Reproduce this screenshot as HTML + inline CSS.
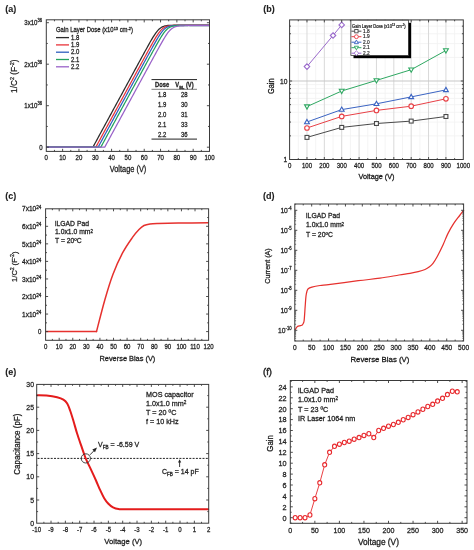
<!DOCTYPE html>
<html><head><meta charset="utf-8"><style>
html,body{margin:0;padding:0;background:#fff;width:474px;height:550px;overflow:hidden}
svg{display:block;filter:blur(0.4px)}
text{font-family:"Liberation Sans", sans-serif}
</style></head><body>
<svg width="474" height="550" viewBox="0 0 474 550">
<rect width="474" height="550" fill="#fff"/>
<text x="5.2" y="12.2" font-size="9" text-anchor="start" font-weight="bold" fill="#1e1e1e" stroke="#1e1e1e" stroke-width="0.1">(a)</text>
<path d="M46.8 147.2 L92.9 147.2 L93.9 145.36 L94.9 143.52 L95.9 141.68 L96.9 139.84 L97.9 138 L98.9 136.16 L99.9 134.32 L100.9 132.48 L101.9 130.64 L102.9 128.8 L103.9 126.96 L104.9 125.12 L105.9 123.28 L106.9 121.44 L107.9 119.6 L108.9 117.76 L109.9 115.92 L110.9 114.08 L111.9 112.24 L112.9 110.4 L113.9 108.56 L114.9 106.72 L115.9 104.88 L116.9 103.04 L117.9 101.2 L118.9 99.36 L119.9 97.52 L120.9 95.68 L121.9 93.84 L122.9 92 L123.9 90.16 L124.9 88.32 L125.9 86.48 L126.9 84.64 L127.9 82.8 L128.9 80.96 L129.9 79.12 L130.9 77.28 L131.9 75.44 L132.9 73.6 L133.9 71.76 L134.9 69.92 L135.9 68.08 L136.9 66.24 L137.9 64.4 L138.9 62.57 L139.9 60.73 L140.9 58.89 L141.9 57.06 L142.9 55.22 L143.9 53.39 L144.9 51.57 L145.9 49.74 L146.9 47.93 L147.9 46.12 L148.9 44.33 L149.9 42.56 L150.9 40.81 L151.9 39.1 L152.9 37.43 L153.9 35.82 L154.9 34.29 L155.9 32.85 L156.9 31.53 L157.9 30.34 L158.9 29.3 L159.9 28.41 L160.9 27.67 L161.9 27.07 L162.9 26.6 L163.9 26.24 L164.9 25.96 L165.9 25.76 L166.9 25.6 L167.9 25.49 L168.9 25.41 L169.9 25.35 L170.9 25.31 L171.9 25.28 L172.9 25.26 L173.9 25.24 L174.9 25.23 L175.9 25.22 L176.9 25.21 L177.9 25.21 L178.9 25.21 L179.9 25.21 L180.9 25.2 L181.9 25.2 L182.9 25.2 L183.9 25.2 L184.9 25.2 L185.9 25.2 L186.9 25.2 L187.9 25.2 L188.9 25.2 L189.9 25.2 L190.9 25.2 L191.9 25.2 L192.9 25.2 L193.9 25.2 L194.9 25.2 L195.9 25.2 L196.9 25.2 L197.9 25.2 L198.9 25.2 L199.9 25.2 L200.9 25.2 L201.9 25.2 L202.9 25.2 L203.9 25.2 L204.9 25.2 L205.9 25.2 L206.9 25.2 L207.9 25.2 L208.9 25.2 L209 25.2" fill="none" stroke="#2b2b2b" stroke-width="1.25" stroke-linejoin="round" stroke-linecap="round" />
<path d="M46.8 147.2 L95.8 147.2 L96.8 145.36 L97.8 143.52 L98.8 141.68 L99.8 139.84 L100.8 138 L101.8 136.16 L102.8 134.32 L103.8 132.48 L104.8 130.64 L105.8 128.8 L106.8 126.96 L107.8 125.12 L108.8 123.28 L109.8 121.44 L110.8 119.6 L111.8 117.76 L112.8 115.92 L113.8 114.08 L114.8 112.24 L115.8 110.4 L116.8 108.56 L117.8 106.72 L118.8 104.88 L119.8 103.04 L120.8 101.2 L121.8 99.36 L122.8 97.52 L123.8 95.68 L124.8 93.84 L125.8 92 L126.8 90.16 L127.8 88.32 L128.8 86.48 L129.8 84.64 L130.8 82.8 L131.8 80.96 L132.8 79.12 L133.8 77.28 L134.8 75.44 L135.8 73.6 L136.8 71.76 L137.8 69.92 L138.8 68.08 L139.8 66.24 L140.8 64.4 L141.8 62.57 L142.8 60.73 L143.8 58.89 L144.8 57.06 L145.8 55.22 L146.8 53.39 L147.8 51.57 L148.8 49.74 L149.8 47.93 L150.8 46.13 L151.8 44.34 L152.8 42.56 L153.8 40.82 L154.8 39.11 L155.8 37.44 L156.8 35.84 L157.8 34.31 L158.8 32.88 L159.8 31.56 L160.8 30.38 L161.8 29.35 L162.8 28.47 L163.8 27.73 L164.8 27.14 L165.8 26.68 L166.8 26.32 L167.8 26.05 L168.8 25.85 L169.8 25.7 L170.8 25.59 L171.8 25.51 L172.8 25.45 L173.8 25.41 L174.8 25.38 L175.8 25.36 L176.8 25.34 L177.8 25.33 L178.8 25.32 L179.8 25.31 L180.8 25.31 L181.8 25.31 L182.8 25.31 L183.8 25.3 L184.8 25.3 L185.8 25.3 L186.8 25.3 L187.8 25.3 L188.8 25.3 L189.8 25.3 L190.8 25.3 L191.8 25.3 L192.8 25.3 L193.8 25.3 L194.8 25.3 L195.8 25.3 L196.8 25.3 L197.8 25.3 L198.8 25.3 L199.8 25.3 L200.8 25.3 L201.8 25.3 L202.8 25.3 L203.8 25.3 L204.8 25.3 L205.8 25.3 L206.8 25.3 L207.8 25.3 L208.8 25.3 L209 25.3" fill="none" stroke="#e8333a" stroke-width="1.25" stroke-linejoin="round" stroke-linecap="round" />
<path d="M46.8 147.2 L98.1 147.2 L99.1 145.36 L100.1 143.52 L101.1 141.68 L102.1 139.84 L103.1 138 L104.1 136.16 L105.1 134.32 L106.1 132.48 L107.1 130.64 L108.1 128.8 L109.1 126.96 L110.1 125.12 L111.1 123.28 L112.1 121.44 L113.1 119.6 L114.1 117.76 L115.1 115.92 L116.1 114.08 L117.1 112.24 L118.1 110.4 L119.1 108.56 L120.1 106.72 L121.1 104.88 L122.1 103.04 L123.1 101.2 L124.1 99.36 L125.1 97.52 L126.1 95.68 L127.1 93.84 L128.1 92 L129.1 90.16 L130.1 88.32 L131.1 86.48 L132.1 84.64 L133.1 82.8 L134.1 80.96 L135.1 79.12 L136.1 77.28 L137.1 75.44 L138.1 73.6 L139.1 71.76 L140.1 69.92 L141.1 68.08 L142.1 66.24 L143.1 64.4 L144.1 62.57 L145.1 60.73 L146.1 58.89 L147.1 57.06 L148.1 55.22 L149.1 53.39 L150.1 51.57 L151.1 49.75 L152.1 47.93 L153.1 46.13 L154.1 44.34 L155.1 42.57 L156.1 40.82 L157.1 39.11 L158.1 37.45 L159.1 35.85 L160.1 34.33 L161.1 32.9 L162.1 31.6 L163.1 30.42 L164.1 29.4 L165.1 28.52 L166.1 27.8 L167.1 27.22 L168.1 26.76 L169.1 26.4 L170.1 26.14 L171.1 25.94 L172.1 25.79 L173.1 25.68 L174.1 25.6 L175.1 25.55 L176.1 25.5 L177.1 25.48 L178.1 25.45 L179.1 25.44 L180.1 25.43 L181.1 25.42 L182.1 25.41 L183.1 25.41 L184.1 25.41 L185.1 25.41 L186.1 25.4 L187.1 25.4 L188.1 25.4 L189.1 25.4 L190.1 25.4 L191.1 25.4 L192.1 25.4 L193.1 25.4 L194.1 25.4 L195.1 25.4 L196.1 25.4 L197.1 25.4 L198.1 25.4 L199.1 25.4 L200.1 25.4 L201.1 25.4 L202.1 25.4 L203.1 25.4 L204.1 25.4 L205.1 25.4 L206.1 25.4 L207.1 25.4 L208.1 25.4 L209 25.4" fill="none" stroke="#2f5fbf" stroke-width="1.25" stroke-linejoin="round" stroke-linecap="round" />
<path d="M46.8 147.2 L100.8 147.2 L101.8 145.36 L102.8 143.52 L103.8 141.68 L104.8 139.84 L105.8 138 L106.8 136.16 L107.8 134.32 L108.8 132.48 L109.8 130.64 L110.8 128.8 L111.8 126.96 L112.8 125.12 L113.8 123.28 L114.8 121.44 L115.8 119.6 L116.8 117.76 L117.8 115.92 L118.8 114.08 L119.8 112.24 L120.8 110.4 L121.8 108.56 L122.8 106.72 L123.8 104.88 L124.8 103.04 L125.8 101.2 L126.8 99.36 L127.8 97.52 L128.8 95.68 L129.8 93.84 L130.8 92 L131.8 90.16 L132.8 88.32 L133.8 86.48 L134.8 84.64 L135.8 82.8 L136.8 80.96 L137.8 79.12 L138.8 77.28 L139.8 75.44 L140.8 73.6 L141.8 71.76 L142.8 69.92 L143.8 68.08 L144.8 66.24 L145.8 64.4 L146.8 62.57 L147.8 60.73 L148.8 58.89 L149.8 57.06 L150.8 55.22 L151.8 53.39 L152.8 51.57 L153.8 49.75 L154.8 47.93 L155.8 46.13 L156.8 44.34 L157.8 42.57 L158.8 40.83 L159.8 39.12 L160.8 37.46 L161.8 35.87 L162.8 34.35 L163.8 32.93 L164.8 31.63 L165.8 30.46 L166.8 29.44 L167.8 28.58 L168.8 27.86 L169.8 27.29 L170.8 26.84 L171.8 26.49 L172.8 26.22 L173.8 26.03 L174.8 25.88 L175.8 25.78 L176.8 25.7 L177.8 25.64 L178.8 25.6 L179.8 25.57 L180.8 25.55 L181.8 25.54 L182.8 25.53 L183.8 25.52 L184.8 25.51 L185.8 25.51 L186.8 25.51 L187.8 25.51 L188.8 25.5 L189.8 25.5 L190.8 25.5 L191.8 25.5 L192.8 25.5 L193.8 25.5 L194.8 25.5 L195.8 25.5 L196.8 25.5 L197.8 25.5 L198.8 25.5 L199.8 25.5 L200.8 25.5 L201.8 25.5 L202.8 25.5 L203.8 25.5 L204.8 25.5 L205.8 25.5 L206.8 25.5 L207.8 25.5 L208.8 25.5 L209 25.5" fill="none" stroke="#23a25e" stroke-width="1.25" stroke-linejoin="round" stroke-linecap="round" />
<path d="M46.8 147.2 L104.7 147.2 L105.7 145.36 L106.7 143.52 L107.7 141.68 L108.7 139.84 L109.7 138 L110.7 136.16 L111.7 134.32 L112.7 132.48 L113.7 130.64 L114.7 128.8 L115.7 126.96 L116.7 125.12 L117.7 123.28 L118.7 121.44 L119.7 119.6 L120.7 117.76 L121.7 115.92 L122.7 114.08 L123.7 112.24 L124.7 110.4 L125.7 108.56 L126.7 106.72 L127.7 104.88 L128.7 103.04 L129.7 101.2 L130.7 99.36 L131.7 97.52 L132.7 95.68 L133.7 93.84 L134.7 92 L135.7 90.16 L136.7 88.32 L137.7 86.48 L138.7 84.64 L139.7 82.8 L140.7 80.96 L141.7 79.12 L142.7 77.28 L143.7 75.44 L144.7 73.6 L145.7 71.76 L146.7 69.92 L147.7 68.08 L148.7 66.24 L149.7 64.4 L150.7 62.57 L151.7 60.73 L152.7 58.89 L153.7 57.06 L154.7 55.23 L155.7 53.4 L156.7 51.57 L157.7 49.75 L158.7 47.94 L159.7 46.14 L160.7 44.35 L161.7 42.58 L162.7 40.84 L163.7 39.14 L164.7 37.49 L165.7 35.9 L166.7 34.39 L167.7 32.98 L168.7 31.69 L169.7 30.54 L170.7 29.54 L171.7 28.69 L172.7 27.99 L173.7 27.43 L174.7 26.99 L175.7 26.66 L176.7 26.4 L177.7 26.21 L178.7 26.07 L179.7 25.97 L180.7 25.89 L181.7 25.84 L182.7 25.8 L183.7 25.77 L184.7 25.75 L185.7 25.74 L186.7 25.73 L187.7 25.72 L188.7 25.71 L189.7 25.71 L190.7 25.71 L191.7 25.7 L192.7 25.7 L193.7 25.7 L194.7 25.7 L195.7 25.7 L196.7 25.7 L197.7 25.7 L198.7 25.7 L199.7 25.7 L200.7 25.7 L201.7 25.7 L202.7 25.7 L203.7 25.7 L204.7 25.7 L205.7 25.7 L206.7 25.7 L207.7 25.7 L208.7 25.7 L209 25.7" fill="none" stroke="#9a62c9" stroke-width="1.25" stroke-linejoin="round" stroke-linecap="round" />
<rect x="46.3" y="19.8" width="163.2" height="131.6" fill="none" stroke="#3a3a3a" stroke-width="1.0"/>
<line x1="62.62" y1="151.4" x2="62.62" y2="148.8" stroke="#3a3a3a" stroke-width="0.9" />
<line x1="62.62" y1="19.8" x2="62.62" y2="22.4" stroke="#3a3a3a" stroke-width="0.9" />
<line x1="78.94" y1="151.4" x2="78.94" y2="148.8" stroke="#3a3a3a" stroke-width="0.9" />
<line x1="78.94" y1="19.8" x2="78.94" y2="22.4" stroke="#3a3a3a" stroke-width="0.9" />
<line x1="95.26" y1="151.4" x2="95.26" y2="148.8" stroke="#3a3a3a" stroke-width="0.9" />
<line x1="95.26" y1="19.8" x2="95.26" y2="22.4" stroke="#3a3a3a" stroke-width="0.9" />
<line x1="111.58" y1="151.4" x2="111.58" y2="148.8" stroke="#3a3a3a" stroke-width="0.9" />
<line x1="111.58" y1="19.8" x2="111.58" y2="22.4" stroke="#3a3a3a" stroke-width="0.9" />
<line x1="127.9" y1="151.4" x2="127.9" y2="148.8" stroke="#3a3a3a" stroke-width="0.9" />
<line x1="127.9" y1="19.8" x2="127.9" y2="22.4" stroke="#3a3a3a" stroke-width="0.9" />
<line x1="144.22" y1="151.4" x2="144.22" y2="148.8" stroke="#3a3a3a" stroke-width="0.9" />
<line x1="144.22" y1="19.8" x2="144.22" y2="22.4" stroke="#3a3a3a" stroke-width="0.9" />
<line x1="160.54" y1="151.4" x2="160.54" y2="148.8" stroke="#3a3a3a" stroke-width="0.9" />
<line x1="160.54" y1="19.8" x2="160.54" y2="22.4" stroke="#3a3a3a" stroke-width="0.9" />
<line x1="176.86" y1="151.4" x2="176.86" y2="148.8" stroke="#3a3a3a" stroke-width="0.9" />
<line x1="176.86" y1="19.8" x2="176.86" y2="22.4" stroke="#3a3a3a" stroke-width="0.9" />
<line x1="193.18" y1="151.4" x2="193.18" y2="148.8" stroke="#3a3a3a" stroke-width="0.9" />
<line x1="193.18" y1="19.8" x2="193.18" y2="22.4" stroke="#3a3a3a" stroke-width="0.9" />
<line x1="54.46" y1="151.4" x2="54.46" y2="149.9" stroke="#3a3a3a" stroke-width="0.9" />
<line x1="54.46" y1="19.8" x2="54.46" y2="21.3" stroke="#3a3a3a" stroke-width="0.9" />
<line x1="70.78" y1="151.4" x2="70.78" y2="149.9" stroke="#3a3a3a" stroke-width="0.9" />
<line x1="70.78" y1="19.8" x2="70.78" y2="21.3" stroke="#3a3a3a" stroke-width="0.9" />
<line x1="87.1" y1="151.4" x2="87.1" y2="149.9" stroke="#3a3a3a" stroke-width="0.9" />
<line x1="87.1" y1="19.8" x2="87.1" y2="21.3" stroke="#3a3a3a" stroke-width="0.9" />
<line x1="103.42" y1="151.4" x2="103.42" y2="149.9" stroke="#3a3a3a" stroke-width="0.9" />
<line x1="103.42" y1="19.8" x2="103.42" y2="21.3" stroke="#3a3a3a" stroke-width="0.9" />
<line x1="119.74" y1="151.4" x2="119.74" y2="149.9" stroke="#3a3a3a" stroke-width="0.9" />
<line x1="119.74" y1="19.8" x2="119.74" y2="21.3" stroke="#3a3a3a" stroke-width="0.9" />
<line x1="136.06" y1="151.4" x2="136.06" y2="149.9" stroke="#3a3a3a" stroke-width="0.9" />
<line x1="136.06" y1="19.8" x2="136.06" y2="21.3" stroke="#3a3a3a" stroke-width="0.9" />
<line x1="152.38" y1="151.4" x2="152.38" y2="149.9" stroke="#3a3a3a" stroke-width="0.9" />
<line x1="152.38" y1="19.8" x2="152.38" y2="21.3" stroke="#3a3a3a" stroke-width="0.9" />
<line x1="168.7" y1="151.4" x2="168.7" y2="149.9" stroke="#3a3a3a" stroke-width="0.9" />
<line x1="168.7" y1="19.8" x2="168.7" y2="21.3" stroke="#3a3a3a" stroke-width="0.9" />
<line x1="185.02" y1="151.4" x2="185.02" y2="149.9" stroke="#3a3a3a" stroke-width="0.9" />
<line x1="185.02" y1="19.8" x2="185.02" y2="21.3" stroke="#3a3a3a" stroke-width="0.9" />
<line x1="201.34" y1="151.4" x2="201.34" y2="149.9" stroke="#3a3a3a" stroke-width="0.9" />
<line x1="201.34" y1="19.8" x2="201.34" y2="21.3" stroke="#3a3a3a" stroke-width="0.9" />
<line x1="46.3" y1="147.2" x2="48.9" y2="147.2" stroke="#3a3a3a" stroke-width="0.9" />
<line x1="209.5" y1="147.2" x2="206.9" y2="147.2" stroke="#3a3a3a" stroke-width="0.9" />
<line x1="46.3" y1="105.7" x2="48.9" y2="105.7" stroke="#3a3a3a" stroke-width="0.9" />
<line x1="209.5" y1="105.7" x2="206.9" y2="105.7" stroke="#3a3a3a" stroke-width="0.9" />
<line x1="46.3" y1="64.2" x2="48.9" y2="64.2" stroke="#3a3a3a" stroke-width="0.9" />
<line x1="209.5" y1="64.2" x2="206.9" y2="64.2" stroke="#3a3a3a" stroke-width="0.9" />
<line x1="46.3" y1="22.7" x2="48.9" y2="22.7" stroke="#3a3a3a" stroke-width="0.9" />
<line x1="209.5" y1="22.7" x2="206.9" y2="22.7" stroke="#3a3a3a" stroke-width="0.9" />
<line x1="46.3" y1="126.45" x2="47.8" y2="126.45" stroke="#3a3a3a" stroke-width="0.9" />
<line x1="209.5" y1="126.45" x2="208" y2="126.45" stroke="#3a3a3a" stroke-width="0.9" />
<line x1="46.3" y1="84.95" x2="47.8" y2="84.95" stroke="#3a3a3a" stroke-width="0.9" />
<line x1="209.5" y1="84.95" x2="208" y2="84.95" stroke="#3a3a3a" stroke-width="0.9" />
<line x1="46.3" y1="43.45" x2="47.8" y2="43.45" stroke="#3a3a3a" stroke-width="0.9" />
<line x1="209.5" y1="43.45" x2="208" y2="43.45" stroke="#3a3a3a" stroke-width="0.9" />
<text x="0" y="0" font-size="6.9" text-anchor="middle" fill="#1e1e1e" stroke="#1e1e1e" stroke-width="0.27" transform="translate(46.3 160.1) scale(0.88 1)">0</text>
<text x="0" y="0" font-size="6.9" text-anchor="middle" fill="#1e1e1e" stroke="#1e1e1e" stroke-width="0.27" transform="translate(62.62 160.1) scale(0.88 1)">10</text>
<text x="0" y="0" font-size="6.9" text-anchor="middle" fill="#1e1e1e" stroke="#1e1e1e" stroke-width="0.27" transform="translate(78.94 160.1) scale(0.88 1)">20</text>
<text x="0" y="0" font-size="6.9" text-anchor="middle" fill="#1e1e1e" stroke="#1e1e1e" stroke-width="0.27" transform="translate(95.26 160.1) scale(0.88 1)">30</text>
<text x="0" y="0" font-size="6.9" text-anchor="middle" fill="#1e1e1e" stroke="#1e1e1e" stroke-width="0.27" transform="translate(111.58 160.1) scale(0.88 1)">40</text>
<text x="0" y="0" font-size="6.9" text-anchor="middle" fill="#1e1e1e" stroke="#1e1e1e" stroke-width="0.27" transform="translate(127.9 160.1) scale(0.88 1)">50</text>
<text x="0" y="0" font-size="6.9" text-anchor="middle" fill="#1e1e1e" stroke="#1e1e1e" stroke-width="0.27" transform="translate(144.22 160.1) scale(0.88 1)">60</text>
<text x="0" y="0" font-size="6.9" text-anchor="middle" fill="#1e1e1e" stroke="#1e1e1e" stroke-width="0.27" transform="translate(160.54 160.1) scale(0.88 1)">70</text>
<text x="0" y="0" font-size="6.9" text-anchor="middle" fill="#1e1e1e" stroke="#1e1e1e" stroke-width="0.27" transform="translate(176.86 160.1) scale(0.88 1)">80</text>
<text x="0" y="0" font-size="6.9" text-anchor="middle" fill="#1e1e1e" stroke="#1e1e1e" stroke-width="0.27" transform="translate(193.18 160.1) scale(0.88 1)">90</text>
<text x="0" y="0" font-size="6.9" text-anchor="middle" fill="#1e1e1e" stroke="#1e1e1e" stroke-width="0.27" transform="translate(209.5 160.1) scale(0.88 1)">100</text>
<text x="0" y="0" font-size="6.9" text-anchor="end" fill="#1e1e1e" stroke="#1e1e1e" stroke-width="0.27" transform="translate(42.6 149.8) scale(0.88 1)">0</text>
<text x="0" y="0" font-size="6.9" text-anchor="end" fill="#1e1e1e" stroke="#1e1e1e" stroke-width="0.27" transform="translate(42 108.3) scale(0.88 1)">1x10<tspan dy="-2.9" font-size="4.6">36</tspan></text>
<text x="0" y="0" font-size="6.9" text-anchor="end" fill="#1e1e1e" stroke="#1e1e1e" stroke-width="0.27" transform="translate(42 66.8) scale(0.88 1)">2x10<tspan dy="-2.9" font-size="4.6">36</tspan></text>
<text x="0" y="0" font-size="6.9" text-anchor="end" fill="#1e1e1e" stroke="#1e1e1e" stroke-width="0.27" transform="translate(42 25.3) scale(0.88 1)">3x10<tspan dy="-2.9" font-size="4.6">36</tspan></text>
<text x="0" y="0" font-size="8.6" text-anchor="middle" fill="#1e1e1e" stroke="#1e1e1e" stroke-width="0.3" transform="translate(128 171.9) scale(0.86 1)">Voltage (V)</text>
<text x="0" y="0" font-size="9.2" text-anchor="middle" fill="#1e1e1e" stroke="#1e1e1e" stroke-width="0.27" transform="translate(17.4 76.2) rotate(-90) scale(0.9 1)">1/C<tspan dy="-3.6" font-size="6">2</tspan><tspan dy="3.6"> (F</tspan><tspan dy="-3.6" font-size="6">-2</tspan><tspan dy="3.6">)</tspan></text>
<text x="0" y="0" font-size="6.6" text-anchor="start" fill="#1e1e1e" stroke="#1e1e1e" stroke-width="0.27" transform="translate(56 32.4) scale(0.9 1)">Gain Layer Dose (x10<tspan dy="-2.64" font-size="4.36">13</tspan><tspan dy="2.64"> cm</tspan><tspan dy="-2.64" font-size="4.36">-2</tspan><tspan dy="2.64">)</tspan></text>
<line x1="56" y1="37.6" x2="69" y2="37.6" stroke="#2b2b2b" stroke-width="1.3" />
<text x="0" y="0" font-size="6.8" text-anchor="start" fill="#1e1e1e" stroke="#1e1e1e" stroke-width="0.27" transform="translate(71 39.8) scale(0.88 1)">1.8</text>
<line x1="56" y1="44.9" x2="69" y2="44.9" stroke="#e8333a" stroke-width="1.3" />
<text x="0" y="0" font-size="6.8" text-anchor="start" fill="#1e1e1e" stroke="#1e1e1e" stroke-width="0.27" transform="translate(71 47.1) scale(0.88 1)">1.9</text>
<line x1="56" y1="52.2" x2="69" y2="52.2" stroke="#2f5fbf" stroke-width="1.3" />
<text x="0" y="0" font-size="6.8" text-anchor="start" fill="#1e1e1e" stroke="#1e1e1e" stroke-width="0.27" transform="translate(71 54.4) scale(0.88 1)">2.0</text>
<line x1="56" y1="59.5" x2="69" y2="59.5" stroke="#23a25e" stroke-width="1.3" />
<text x="0" y="0" font-size="6.8" text-anchor="start" fill="#1e1e1e" stroke="#1e1e1e" stroke-width="0.27" transform="translate(71 61.7) scale(0.88 1)">2.1</text>
<line x1="56" y1="66.8" x2="69" y2="66.8" stroke="#9a62c9" stroke-width="1.3" />
<text x="0" y="0" font-size="6.8" text-anchor="start" fill="#1e1e1e" stroke="#1e1e1e" stroke-width="0.27" transform="translate(71 69) scale(0.88 1)">2.2</text>
<line x1="151.5" y1="79.6" x2="197" y2="79.6" stroke="#222" stroke-width="1.0" />
<line x1="151.5" y1="89.3" x2="197" y2="89.3" stroke="#444" stroke-width="0.7" />
<line x1="151.5" y1="139.1" x2="197" y2="139.1" stroke="#222" stroke-width="1.0" />
<text x="0" y="0" font-size="6.6" text-anchor="middle" font-weight="bold" fill="#1e1e1e" stroke="#1e1e1e" stroke-width="0.27" transform="translate(162.2 87.2) scale(0.88 1)">Dose</text>
<text x="0" y="0" font-size="6.6" text-anchor="middle" font-weight="bold" fill="#1e1e1e" stroke="#1e1e1e" stroke-width="0.27" transform="translate(184.5 87.2) scale(0.88 1)">V<tspan dy="1.45" font-size="4.36">BL</tspan><tspan dy="-1.45"> (V)</tspan></text>
<text x="0" y="0" font-size="6.8" text-anchor="middle" fill="#1e1e1e" stroke="#1e1e1e" stroke-width="0.27" transform="translate(162.2 97.2) scale(0.88 1)">1.8</text>
<text x="0" y="0" font-size="6.8" text-anchor="middle" fill="#1e1e1e" stroke="#1e1e1e" stroke-width="0.27" transform="translate(184.3 97.2) scale(0.88 1)">28</text>
<text x="0" y="0" font-size="6.8" text-anchor="middle" fill="#1e1e1e" stroke="#1e1e1e" stroke-width="0.27" transform="translate(162.2 107.15) scale(0.88 1)">1.9</text>
<text x="0" y="0" font-size="6.8" text-anchor="middle" fill="#1e1e1e" stroke="#1e1e1e" stroke-width="0.27" transform="translate(184.3 107.15) scale(0.88 1)">30</text>
<text x="0" y="0" font-size="6.8" text-anchor="middle" fill="#1e1e1e" stroke="#1e1e1e" stroke-width="0.27" transform="translate(162.2 117.1) scale(0.88 1)">2.0</text>
<text x="0" y="0" font-size="6.8" text-anchor="middle" fill="#1e1e1e" stroke="#1e1e1e" stroke-width="0.27" transform="translate(184.3 117.1) scale(0.88 1)">31</text>
<text x="0" y="0" font-size="6.8" text-anchor="middle" fill="#1e1e1e" stroke="#1e1e1e" stroke-width="0.27" transform="translate(162.2 127.05) scale(0.88 1)">2.1</text>
<text x="0" y="0" font-size="6.8" text-anchor="middle" fill="#1e1e1e" stroke="#1e1e1e" stroke-width="0.27" transform="translate(184.3 127.05) scale(0.88 1)">33</text>
<text x="0" y="0" font-size="6.8" text-anchor="middle" fill="#1e1e1e" stroke="#1e1e1e" stroke-width="0.27" transform="translate(162.2 137) scale(0.88 1)">2.2</text>
<text x="0" y="0" font-size="6.8" text-anchor="middle" fill="#1e1e1e" stroke="#1e1e1e" stroke-width="0.27" transform="translate(184.3 137) scale(0.88 1)">36</text>
<text x="263.2" y="12.2" font-size="9" text-anchor="start" font-weight="bold" fill="#1e1e1e" stroke="#1e1e1e" stroke-width="0.1">(b)</text>
<line x1="298.29" y1="19.9" x2="298.29" y2="159.5" stroke="#f1f1f1" stroke-width="0.8" />
<line x1="315.66" y1="19.9" x2="315.66" y2="159.5" stroke="#f1f1f1" stroke-width="0.8" />
<line x1="333.03" y1="19.9" x2="333.03" y2="159.5" stroke="#f1f1f1" stroke-width="0.8" />
<line x1="350.4" y1="19.9" x2="350.4" y2="159.5" stroke="#f1f1f1" stroke-width="0.8" />
<line x1="367.77" y1="19.9" x2="367.77" y2="159.5" stroke="#f1f1f1" stroke-width="0.8" />
<line x1="385.13" y1="19.9" x2="385.13" y2="159.5" stroke="#f1f1f1" stroke-width="0.8" />
<line x1="402.5" y1="19.9" x2="402.5" y2="159.5" stroke="#f1f1f1" stroke-width="0.8" />
<line x1="419.88" y1="19.9" x2="419.88" y2="159.5" stroke="#f1f1f1" stroke-width="0.8" />
<line x1="437.25" y1="19.9" x2="437.25" y2="159.5" stroke="#f1f1f1" stroke-width="0.8" />
<line x1="454.62" y1="19.9" x2="454.62" y2="159.5" stroke="#f1f1f1" stroke-width="0.8" />
<line x1="289.6" y1="135.87" x2="463.3" y2="135.87" stroke="#f1f1f1" stroke-width="0.8" />
<line x1="289.6" y1="122.05" x2="463.3" y2="122.05" stroke="#f1f1f1" stroke-width="0.8" />
<line x1="289.6" y1="112.24" x2="463.3" y2="112.24" stroke="#f1f1f1" stroke-width="0.8" />
<line x1="289.6" y1="104.63" x2="463.3" y2="104.63" stroke="#f1f1f1" stroke-width="0.8" />
<line x1="289.6" y1="98.42" x2="463.3" y2="98.42" stroke="#f1f1f1" stroke-width="0.8" />
<line x1="289.6" y1="93.16" x2="463.3" y2="93.16" stroke="#f1f1f1" stroke-width="0.8" />
<line x1="289.6" y1="88.61" x2="463.3" y2="88.61" stroke="#f1f1f1" stroke-width="0.8" />
<line x1="289.6" y1="84.59" x2="463.3" y2="84.59" stroke="#f1f1f1" stroke-width="0.8" />
<line x1="289.6" y1="57.37" x2="463.3" y2="57.37" stroke="#f1f1f1" stroke-width="0.8" />
<line x1="289.6" y1="43.55" x2="463.3" y2="43.55" stroke="#f1f1f1" stroke-width="0.8" />
<line x1="289.6" y1="33.74" x2="463.3" y2="33.74" stroke="#f1f1f1" stroke-width="0.8" />
<line x1="289.6" y1="26.13" x2="463.3" y2="26.13" stroke="#f1f1f1" stroke-width="0.8" />
<line x1="306.97" y1="19.9" x2="306.97" y2="159.5" stroke="#d9d9d9" stroke-width="1.0" />
<line x1="324.34" y1="19.9" x2="324.34" y2="159.5" stroke="#d9d9d9" stroke-width="1.0" />
<line x1="341.71" y1="19.9" x2="341.71" y2="159.5" stroke="#d9d9d9" stroke-width="1.0" />
<line x1="359.08" y1="19.9" x2="359.08" y2="159.5" stroke="#d9d9d9" stroke-width="1.0" />
<line x1="376.45" y1="19.9" x2="376.45" y2="159.5" stroke="#d9d9d9" stroke-width="1.0" />
<line x1="393.82" y1="19.9" x2="393.82" y2="159.5" stroke="#d9d9d9" stroke-width="1.0" />
<line x1="411.19" y1="19.9" x2="411.19" y2="159.5" stroke="#d9d9d9" stroke-width="1.0" />
<line x1="428.56" y1="19.9" x2="428.56" y2="159.5" stroke="#d9d9d9" stroke-width="1.0" />
<line x1="445.93" y1="19.9" x2="445.93" y2="159.5" stroke="#d9d9d9" stroke-width="1.0" />
<line x1="289.6" y1="81" x2="463.3" y2="81" stroke="#c8c8c8" stroke-width="1.1" />
<path d="M306.97 137.4 L341.71 127.4 L376.45 123.5 L411.19 121.1 L445.93 116.5" fill="none" stroke="#4a4a4a" stroke-width="1.0" stroke-linejoin="round" stroke-linecap="round" />
<path d="M306.97 128 L341.71 116.4 L376.45 110.4 L411.19 106.2 L445.93 98.8" fill="none" stroke="#e84046" stroke-width="1.0" stroke-linejoin="round" stroke-linecap="round" />
<path d="M306.97 122 L341.71 109.6 L376.45 103.8 L411.19 96.9 L445.93 89.9" fill="none" stroke="#3a63c2" stroke-width="1.0" stroke-linejoin="round" stroke-linecap="round" />
<path d="M306.97 106.6 L341.71 91 L376.45 80.4 L411.19 69.7 L445.93 50.5" fill="none" stroke="#2fa862" stroke-width="1.0" stroke-linejoin="round" stroke-linecap="round" />
<path d="M306.97 66.6 L333.03 35.5 L341.71 24.9" fill="none" stroke="#9b6bcc" stroke-width="1.0" stroke-linejoin="round" stroke-linecap="round" />
<rect x="305.02" y="135.44" width="3.91" height="3.91" fill="#fff" stroke="#4a4a4a" stroke-width="1.1"/>
<rect x="339.76" y="125.45" width="3.91" height="3.91" fill="#fff" stroke="#4a4a4a" stroke-width="1.1"/>
<rect x="374.5" y="121.55" width="3.91" height="3.91" fill="#fff" stroke="#4a4a4a" stroke-width="1.1"/>
<rect x="409.24" y="119.14" width="3.91" height="3.91" fill="#fff" stroke="#4a4a4a" stroke-width="1.1"/>
<rect x="443.98" y="114.55" width="3.91" height="3.91" fill="#fff" stroke="#4a4a4a" stroke-width="1.1"/>
<circle cx="306.97" cy="128" r="2.3" fill="#fff" stroke="#e84046" stroke-width="1.1"/>
<circle cx="341.71" cy="116.4" r="2.3" fill="#fff" stroke="#e84046" stroke-width="1.1"/>
<circle cx="376.45" cy="110.4" r="2.3" fill="#fff" stroke="#e84046" stroke-width="1.1"/>
<circle cx="411.19" cy="106.2" r="2.3" fill="#fff" stroke="#e84046" stroke-width="1.1"/>
<circle cx="445.93" cy="98.8" r="2.3" fill="#fff" stroke="#e84046" stroke-width="1.1"/>
<polygon points="306.97,119.47 309.39,123.72 304.56,123.72" fill="#fff" stroke="#3a63c2" stroke-width="1.1" stroke-linejoin="miter"/>
<polygon points="341.71,107.07 344.13,111.32 339.3,111.32" fill="#fff" stroke="#3a63c2" stroke-width="1.1" stroke-linejoin="miter"/>
<polygon points="376.45,101.27 378.87,105.52 374.04,105.52" fill="#fff" stroke="#3a63c2" stroke-width="1.1" stroke-linejoin="miter"/>
<polygon points="411.19,94.37 413.61,98.62 408.77,98.62" fill="#fff" stroke="#3a63c2" stroke-width="1.1" stroke-linejoin="miter"/>
<polygon points="445.93,87.37 448.35,91.62 443.52,91.62" fill="#fff" stroke="#3a63c2" stroke-width="1.1" stroke-linejoin="miter"/>
<polygon points="306.97,109.13 309.39,104.88 304.56,104.88" fill="#fff" stroke="#2fa862" stroke-width="1.1" stroke-linejoin="miter"/>
<polygon points="341.71,93.53 344.13,89.28 339.3,89.28" fill="#fff" stroke="#2fa862" stroke-width="1.1" stroke-linejoin="miter"/>
<polygon points="376.45,82.93 378.87,78.68 374.04,78.68" fill="#fff" stroke="#2fa862" stroke-width="1.1" stroke-linejoin="miter"/>
<polygon points="411.19,72.23 413.61,67.98 408.77,67.98" fill="#fff" stroke="#2fa862" stroke-width="1.1" stroke-linejoin="miter"/>
<polygon points="445.93,53.03 448.35,48.77 443.52,48.77" fill="#fff" stroke="#2fa862" stroke-width="1.1" stroke-linejoin="miter"/>
<polygon points="306.97,63.84 309.73,66.6 306.97,69.36 304.21,66.6" fill="#fff" stroke="#9b6bcc" stroke-width="1.1"/>
<polygon points="333.03,32.74 335.79,35.5 333.03,38.26 330.27,35.5" fill="#fff" stroke="#9b6bcc" stroke-width="1.1"/>
<polygon points="341.71,22.14 344.47,24.9 341.71,27.66 338.95,24.9" fill="#fff" stroke="#9b6bcc" stroke-width="1.1"/>
<rect x="289.6" y="19.9" width="173.7" height="139.6" fill="none" stroke="#3a3a3a" stroke-width="1.0"/>
<line x1="306.97" y1="159.5" x2="306.97" y2="157" stroke="#3a3a3a" stroke-width="0.9" />
<line x1="306.97" y1="19.9" x2="306.97" y2="22.4" stroke="#3a3a3a" stroke-width="0.9" />
<line x1="324.34" y1="159.5" x2="324.34" y2="157" stroke="#3a3a3a" stroke-width="0.9" />
<line x1="324.34" y1="19.9" x2="324.34" y2="22.4" stroke="#3a3a3a" stroke-width="0.9" />
<line x1="341.71" y1="159.5" x2="341.71" y2="157" stroke="#3a3a3a" stroke-width="0.9" />
<line x1="341.71" y1="19.9" x2="341.71" y2="22.4" stroke="#3a3a3a" stroke-width="0.9" />
<line x1="359.08" y1="159.5" x2="359.08" y2="157" stroke="#3a3a3a" stroke-width="0.9" />
<line x1="359.08" y1="19.9" x2="359.08" y2="22.4" stroke="#3a3a3a" stroke-width="0.9" />
<line x1="376.45" y1="159.5" x2="376.45" y2="157" stroke="#3a3a3a" stroke-width="0.9" />
<line x1="376.45" y1="19.9" x2="376.45" y2="22.4" stroke="#3a3a3a" stroke-width="0.9" />
<line x1="393.82" y1="159.5" x2="393.82" y2="157" stroke="#3a3a3a" stroke-width="0.9" />
<line x1="393.82" y1="19.9" x2="393.82" y2="22.4" stroke="#3a3a3a" stroke-width="0.9" />
<line x1="411.19" y1="159.5" x2="411.19" y2="157" stroke="#3a3a3a" stroke-width="0.9" />
<line x1="411.19" y1="19.9" x2="411.19" y2="22.4" stroke="#3a3a3a" stroke-width="0.9" />
<line x1="428.56" y1="159.5" x2="428.56" y2="157" stroke="#3a3a3a" stroke-width="0.9" />
<line x1="428.56" y1="19.9" x2="428.56" y2="22.4" stroke="#3a3a3a" stroke-width="0.9" />
<line x1="445.93" y1="159.5" x2="445.93" y2="157" stroke="#3a3a3a" stroke-width="0.9" />
<line x1="445.93" y1="19.9" x2="445.93" y2="22.4" stroke="#3a3a3a" stroke-width="0.9" />
<line x1="298.29" y1="159.5" x2="298.29" y2="158.1" stroke="#3a3a3a" stroke-width="0.9" />
<line x1="298.29" y1="19.9" x2="298.29" y2="21.3" stroke="#3a3a3a" stroke-width="0.9" />
<line x1="315.66" y1="159.5" x2="315.66" y2="158.1" stroke="#3a3a3a" stroke-width="0.9" />
<line x1="315.66" y1="19.9" x2="315.66" y2="21.3" stroke="#3a3a3a" stroke-width="0.9" />
<line x1="333.03" y1="159.5" x2="333.03" y2="158.1" stroke="#3a3a3a" stroke-width="0.9" />
<line x1="333.03" y1="19.9" x2="333.03" y2="21.3" stroke="#3a3a3a" stroke-width="0.9" />
<line x1="350.4" y1="159.5" x2="350.4" y2="158.1" stroke="#3a3a3a" stroke-width="0.9" />
<line x1="350.4" y1="19.9" x2="350.4" y2="21.3" stroke="#3a3a3a" stroke-width="0.9" />
<line x1="367.77" y1="159.5" x2="367.77" y2="158.1" stroke="#3a3a3a" stroke-width="0.9" />
<line x1="367.77" y1="19.9" x2="367.77" y2="21.3" stroke="#3a3a3a" stroke-width="0.9" />
<line x1="385.13" y1="159.5" x2="385.13" y2="158.1" stroke="#3a3a3a" stroke-width="0.9" />
<line x1="385.13" y1="19.9" x2="385.13" y2="21.3" stroke="#3a3a3a" stroke-width="0.9" />
<line x1="402.5" y1="159.5" x2="402.5" y2="158.1" stroke="#3a3a3a" stroke-width="0.9" />
<line x1="402.5" y1="19.9" x2="402.5" y2="21.3" stroke="#3a3a3a" stroke-width="0.9" />
<line x1="419.88" y1="159.5" x2="419.88" y2="158.1" stroke="#3a3a3a" stroke-width="0.9" />
<line x1="419.88" y1="19.9" x2="419.88" y2="21.3" stroke="#3a3a3a" stroke-width="0.9" />
<line x1="437.25" y1="159.5" x2="437.25" y2="158.1" stroke="#3a3a3a" stroke-width="0.9" />
<line x1="437.25" y1="19.9" x2="437.25" y2="21.3" stroke="#3a3a3a" stroke-width="0.9" />
<line x1="454.62" y1="159.5" x2="454.62" y2="158.1" stroke="#3a3a3a" stroke-width="0.9" />
<line x1="454.62" y1="19.9" x2="454.62" y2="21.3" stroke="#3a3a3a" stroke-width="0.9" />
<line x1="289.6" y1="81" x2="292.1" y2="81" stroke="#3a3a3a" stroke-width="0.9" />
<line x1="463.3" y1="81" x2="460.8" y2="81" stroke="#3a3a3a" stroke-width="0.9" />
<line x1="289.6" y1="135.87" x2="291" y2="135.87" stroke="#3a3a3a" stroke-width="0.9" />
<line x1="463.3" y1="135.87" x2="461.9" y2="135.87" stroke="#3a3a3a" stroke-width="0.9" />
<line x1="289.6" y1="122.05" x2="291" y2="122.05" stroke="#3a3a3a" stroke-width="0.9" />
<line x1="463.3" y1="122.05" x2="461.9" y2="122.05" stroke="#3a3a3a" stroke-width="0.9" />
<line x1="289.6" y1="112.24" x2="291" y2="112.24" stroke="#3a3a3a" stroke-width="0.9" />
<line x1="463.3" y1="112.24" x2="461.9" y2="112.24" stroke="#3a3a3a" stroke-width="0.9" />
<line x1="289.6" y1="104.63" x2="291" y2="104.63" stroke="#3a3a3a" stroke-width="0.9" />
<line x1="463.3" y1="104.63" x2="461.9" y2="104.63" stroke="#3a3a3a" stroke-width="0.9" />
<line x1="289.6" y1="98.42" x2="291" y2="98.42" stroke="#3a3a3a" stroke-width="0.9" />
<line x1="463.3" y1="98.42" x2="461.9" y2="98.42" stroke="#3a3a3a" stroke-width="0.9" />
<line x1="289.6" y1="93.16" x2="291" y2="93.16" stroke="#3a3a3a" stroke-width="0.9" />
<line x1="463.3" y1="93.16" x2="461.9" y2="93.16" stroke="#3a3a3a" stroke-width="0.9" />
<line x1="289.6" y1="88.61" x2="291" y2="88.61" stroke="#3a3a3a" stroke-width="0.9" />
<line x1="463.3" y1="88.61" x2="461.9" y2="88.61" stroke="#3a3a3a" stroke-width="0.9" />
<line x1="289.6" y1="84.59" x2="291" y2="84.59" stroke="#3a3a3a" stroke-width="0.9" />
<line x1="463.3" y1="84.59" x2="461.9" y2="84.59" stroke="#3a3a3a" stroke-width="0.9" />
<line x1="289.6" y1="57.37" x2="291" y2="57.37" stroke="#3a3a3a" stroke-width="0.9" />
<line x1="463.3" y1="57.37" x2="461.9" y2="57.37" stroke="#3a3a3a" stroke-width="0.9" />
<line x1="289.6" y1="43.55" x2="291" y2="43.55" stroke="#3a3a3a" stroke-width="0.9" />
<line x1="463.3" y1="43.55" x2="461.9" y2="43.55" stroke="#3a3a3a" stroke-width="0.9" />
<line x1="289.6" y1="33.74" x2="291" y2="33.74" stroke="#3a3a3a" stroke-width="0.9" />
<line x1="463.3" y1="33.74" x2="461.9" y2="33.74" stroke="#3a3a3a" stroke-width="0.9" />
<line x1="289.6" y1="26.13" x2="291" y2="26.13" stroke="#3a3a3a" stroke-width="0.9" />
<line x1="463.3" y1="26.13" x2="461.9" y2="26.13" stroke="#3a3a3a" stroke-width="0.9" />
<text x="0" y="0" font-size="6.9" text-anchor="middle" fill="#1e1e1e" stroke="#1e1e1e" stroke-width="0.27" transform="translate(289.6 167.7) scale(0.88 1)">0</text>
<text x="0" y="0" font-size="6.9" text-anchor="middle" fill="#1e1e1e" stroke="#1e1e1e" stroke-width="0.27" transform="translate(306.97 167.7) scale(0.88 1)">100</text>
<text x="0" y="0" font-size="6.9" text-anchor="middle" fill="#1e1e1e" stroke="#1e1e1e" stroke-width="0.27" transform="translate(324.34 167.7) scale(0.88 1)">200</text>
<text x="0" y="0" font-size="6.9" text-anchor="middle" fill="#1e1e1e" stroke="#1e1e1e" stroke-width="0.27" transform="translate(341.71 167.7) scale(0.88 1)">300</text>
<text x="0" y="0" font-size="6.9" text-anchor="middle" fill="#1e1e1e" stroke="#1e1e1e" stroke-width="0.27" transform="translate(359.08 167.7) scale(0.88 1)">400</text>
<text x="0" y="0" font-size="6.9" text-anchor="middle" fill="#1e1e1e" stroke="#1e1e1e" stroke-width="0.27" transform="translate(376.45 167.7) scale(0.88 1)">500</text>
<text x="0" y="0" font-size="6.9" text-anchor="middle" fill="#1e1e1e" stroke="#1e1e1e" stroke-width="0.27" transform="translate(393.82 167.7) scale(0.88 1)">600</text>
<text x="0" y="0" font-size="6.9" text-anchor="middle" fill="#1e1e1e" stroke="#1e1e1e" stroke-width="0.27" transform="translate(411.19 167.7) scale(0.88 1)">700</text>
<text x="0" y="0" font-size="6.9" text-anchor="middle" fill="#1e1e1e" stroke="#1e1e1e" stroke-width="0.27" transform="translate(428.56 167.7) scale(0.88 1)">800</text>
<text x="0" y="0" font-size="6.9" text-anchor="middle" fill="#1e1e1e" stroke="#1e1e1e" stroke-width="0.27" transform="translate(445.93 167.7) scale(0.88 1)">900</text>
<text x="0" y="0" font-size="6.9" text-anchor="middle" fill="#1e1e1e" stroke="#1e1e1e" stroke-width="0.27" transform="translate(463.3 167.7) scale(0.88 1)">1000</text>
<text x="0" y="0" font-size="7.4" text-anchor="end" fill="#1e1e1e" stroke="#1e1e1e" stroke-width="0.27" transform="translate(287.2 161.7) scale(0.9 1)">1</text>
<text x="0" y="0" font-size="7.4" text-anchor="end" fill="#1e1e1e" stroke="#1e1e1e" stroke-width="0.27" transform="translate(287.4 83.5) scale(0.9 1)">10</text>
<text x="0" y="0" font-size="7.6" text-anchor="middle" fill="#1e1e1e" stroke="#1e1e1e" stroke-width="0.32" transform="translate(376.5 179.1) scale(0.96 1)">Voltage (V)</text>
<text x="0" y="0" font-size="8.6" text-anchor="middle" fill="#1e1e1e" stroke="#1e1e1e" stroke-width="0.32" transform="translate(273.6 86.2) rotate(-90) scale(0.86 1)">Gain</text>
<rect x="353.5" y="22.8" width="57.6" height="35.4" fill="#000"/>
<rect x="350.9" y="20.2" width="57.6" height="35.4" fill="#fff" stroke="#222" stroke-width="0.7"/>
<text x="0" y="0" font-size="4.7" text-anchor="start" fill="#1e1e1e" stroke="#1e1e1e" stroke-width="0.22" transform="translate(352 27.5) scale(0.875 1)">Gain Layer Dose (x10<tspan dy="-1.6" font-size="3.3">13</tspan><tspan dy="1.6"> cm</tspan><tspan dy="-1.6" font-size="3.3">-2</tspan><tspan dy="1.6">)</tspan></text>
<line x1="351.4" y1="31.2" x2="361.4" y2="31.2" stroke="#4a4a4a" stroke-width="1.0" />
<rect x="354.74" y="29.54" width="3.31" height="3.31" fill="#fff" stroke="#4a4a4a" stroke-width="0.9"/>
<text x="363" y="32.9" font-size="4.8" text-anchor="start" fill="#1e1e1e" stroke="#1e1e1e" stroke-width="0.16">1.8</text>
<line x1="351.4" y1="36.7" x2="361.4" y2="36.7" stroke="#e84046" stroke-width="1.0" />
<circle cx="356.4" cy="36.7" r="1.95" fill="#fff" stroke="#e84046" stroke-width="0.9"/>
<text x="363" y="38.4" font-size="4.8" text-anchor="start" fill="#1e1e1e" stroke="#1e1e1e" stroke-width="0.16">1.9</text>
<line x1="351.4" y1="42.2" x2="361.4" y2="42.2" stroke="#3a63c2" stroke-width="1.0" />
<polygon points="356.4,40.05 358.45,43.66 354.35,43.66" fill="#fff" stroke="#3a63c2" stroke-width="0.9" stroke-linejoin="miter"/>
<text x="363" y="43.9" font-size="4.8" text-anchor="start" fill="#1e1e1e" stroke="#1e1e1e" stroke-width="0.16">2.0</text>
<line x1="351.4" y1="47.7" x2="361.4" y2="47.7" stroke="#2fa862" stroke-width="1.0" />
<polygon points="356.4,49.85 358.45,46.24 354.35,46.24" fill="#fff" stroke="#2fa862" stroke-width="0.9" stroke-linejoin="miter"/>
<text x="363" y="49.4" font-size="4.8" text-anchor="start" fill="#1e1e1e" stroke="#1e1e1e" stroke-width="0.16">2.1</text>
<line x1="351.4" y1="53.2" x2="361.4" y2="53.2" stroke="#9b6bcc" stroke-width="1.0" />
<polygon points="356.4,50.86 358.74,53.2 356.4,55.54 354.06,53.2" fill="#fff" stroke="#9b6bcc" stroke-width="0.9"/>
<text x="363" y="54.9" font-size="4.8" text-anchor="start" fill="#1e1e1e" stroke="#1e1e1e" stroke-width="0.16">2.2</text>
<text x="5.2" y="198.7" font-size="9" text-anchor="start" font-weight="bold" fill="#1e1e1e" stroke="#1e1e1e" stroke-width="0.1">(c)</text>
<path d="M46.1 331.6 L96.5 331.6" fill="none" stroke="#e6312e" stroke-width="1.5" stroke-linejoin="round" stroke-linecap="round" />
<path d="M96.5 331.6 C97.88 326.33 102.07 309.52 104.8 300 C107.53 290.48 109.92 282.38 112.9 274.5 C115.88 266.62 119.43 258.88 122.7 252.7 C125.97 246.52 129.78 241.27 132.5 237.4 C135.22 233.53 137.08 231.48 139 229.5 C140.92 227.52 142.17 226.43 144 225.5 C145.83 224.57 147.67 224.25 150 223.9 C152.33 223.55 153 223.55 158 223.4 C163 223.25 171.65 223.1 180 223 C188.35 222.9 203.42 222.83 208.1 222.8" fill="none" stroke="#e6312e" stroke-width="1.5" stroke-linejoin="round" stroke-linecap="round" />
<rect x="45.6" y="208.8" width="163" height="131.5" fill="none" stroke="#3a3a3a" stroke-width="1.0"/>
<line x1="59.18" y1="340.3" x2="59.18" y2="337.8" stroke="#3a3a3a" stroke-width="0.9" />
<line x1="59.18" y1="208.8" x2="59.18" y2="211.3" stroke="#3a3a3a" stroke-width="0.9" />
<line x1="72.77" y1="340.3" x2="72.77" y2="337.8" stroke="#3a3a3a" stroke-width="0.9" />
<line x1="72.77" y1="208.8" x2="72.77" y2="211.3" stroke="#3a3a3a" stroke-width="0.9" />
<line x1="86.35" y1="340.3" x2="86.35" y2="337.8" stroke="#3a3a3a" stroke-width="0.9" />
<line x1="86.35" y1="208.8" x2="86.35" y2="211.3" stroke="#3a3a3a" stroke-width="0.9" />
<line x1="99.93" y1="340.3" x2="99.93" y2="337.8" stroke="#3a3a3a" stroke-width="0.9" />
<line x1="99.93" y1="208.8" x2="99.93" y2="211.3" stroke="#3a3a3a" stroke-width="0.9" />
<line x1="113.52" y1="340.3" x2="113.52" y2="337.8" stroke="#3a3a3a" stroke-width="0.9" />
<line x1="113.52" y1="208.8" x2="113.52" y2="211.3" stroke="#3a3a3a" stroke-width="0.9" />
<line x1="127.1" y1="340.3" x2="127.1" y2="337.8" stroke="#3a3a3a" stroke-width="0.9" />
<line x1="127.1" y1="208.8" x2="127.1" y2="211.3" stroke="#3a3a3a" stroke-width="0.9" />
<line x1="140.68" y1="340.3" x2="140.68" y2="337.8" stroke="#3a3a3a" stroke-width="0.9" />
<line x1="140.68" y1="208.8" x2="140.68" y2="211.3" stroke="#3a3a3a" stroke-width="0.9" />
<line x1="154.27" y1="340.3" x2="154.27" y2="337.8" stroke="#3a3a3a" stroke-width="0.9" />
<line x1="154.27" y1="208.8" x2="154.27" y2="211.3" stroke="#3a3a3a" stroke-width="0.9" />
<line x1="167.85" y1="340.3" x2="167.85" y2="337.8" stroke="#3a3a3a" stroke-width="0.9" />
<line x1="167.85" y1="208.8" x2="167.85" y2="211.3" stroke="#3a3a3a" stroke-width="0.9" />
<line x1="181.43" y1="340.3" x2="181.43" y2="337.8" stroke="#3a3a3a" stroke-width="0.9" />
<line x1="181.43" y1="208.8" x2="181.43" y2="211.3" stroke="#3a3a3a" stroke-width="0.9" />
<line x1="195.02" y1="340.3" x2="195.02" y2="337.8" stroke="#3a3a3a" stroke-width="0.9" />
<line x1="195.02" y1="208.8" x2="195.02" y2="211.3" stroke="#3a3a3a" stroke-width="0.9" />
<line x1="52.39" y1="340.3" x2="52.39" y2="338.9" stroke="#3a3a3a" stroke-width="0.9" />
<line x1="52.39" y1="208.8" x2="52.39" y2="210.2" stroke="#3a3a3a" stroke-width="0.9" />
<line x1="65.97" y1="340.3" x2="65.97" y2="338.9" stroke="#3a3a3a" stroke-width="0.9" />
<line x1="65.97" y1="208.8" x2="65.97" y2="210.2" stroke="#3a3a3a" stroke-width="0.9" />
<line x1="79.56" y1="340.3" x2="79.56" y2="338.9" stroke="#3a3a3a" stroke-width="0.9" />
<line x1="79.56" y1="208.8" x2="79.56" y2="210.2" stroke="#3a3a3a" stroke-width="0.9" />
<line x1="93.14" y1="340.3" x2="93.14" y2="338.9" stroke="#3a3a3a" stroke-width="0.9" />
<line x1="93.14" y1="208.8" x2="93.14" y2="210.2" stroke="#3a3a3a" stroke-width="0.9" />
<line x1="106.72" y1="340.3" x2="106.72" y2="338.9" stroke="#3a3a3a" stroke-width="0.9" />
<line x1="106.72" y1="208.8" x2="106.72" y2="210.2" stroke="#3a3a3a" stroke-width="0.9" />
<line x1="120.31" y1="340.3" x2="120.31" y2="338.9" stroke="#3a3a3a" stroke-width="0.9" />
<line x1="120.31" y1="208.8" x2="120.31" y2="210.2" stroke="#3a3a3a" stroke-width="0.9" />
<line x1="133.89" y1="340.3" x2="133.89" y2="338.9" stroke="#3a3a3a" stroke-width="0.9" />
<line x1="133.89" y1="208.8" x2="133.89" y2="210.2" stroke="#3a3a3a" stroke-width="0.9" />
<line x1="147.47" y1="340.3" x2="147.47" y2="338.9" stroke="#3a3a3a" stroke-width="0.9" />
<line x1="147.47" y1="208.8" x2="147.47" y2="210.2" stroke="#3a3a3a" stroke-width="0.9" />
<line x1="161.06" y1="340.3" x2="161.06" y2="338.9" stroke="#3a3a3a" stroke-width="0.9" />
<line x1="161.06" y1="208.8" x2="161.06" y2="210.2" stroke="#3a3a3a" stroke-width="0.9" />
<line x1="174.64" y1="340.3" x2="174.64" y2="338.9" stroke="#3a3a3a" stroke-width="0.9" />
<line x1="174.64" y1="208.8" x2="174.64" y2="210.2" stroke="#3a3a3a" stroke-width="0.9" />
<line x1="188.22" y1="340.3" x2="188.22" y2="338.9" stroke="#3a3a3a" stroke-width="0.9" />
<line x1="188.22" y1="208.8" x2="188.22" y2="210.2" stroke="#3a3a3a" stroke-width="0.9" />
<line x1="201.81" y1="340.3" x2="201.81" y2="338.9" stroke="#3a3a3a" stroke-width="0.9" />
<line x1="201.81" y1="208.8" x2="201.81" y2="210.2" stroke="#3a3a3a" stroke-width="0.9" />
<line x1="45.6" y1="331.6" x2="48.1" y2="331.6" stroke="#3a3a3a" stroke-width="0.9" />
<line x1="208.6" y1="331.6" x2="206.1" y2="331.6" stroke="#3a3a3a" stroke-width="0.9" />
<line x1="45.6" y1="314.05" x2="48.1" y2="314.05" stroke="#3a3a3a" stroke-width="0.9" />
<line x1="208.6" y1="314.05" x2="206.1" y2="314.05" stroke="#3a3a3a" stroke-width="0.9" />
<line x1="45.6" y1="296.5" x2="48.1" y2="296.5" stroke="#3a3a3a" stroke-width="0.9" />
<line x1="208.6" y1="296.5" x2="206.1" y2="296.5" stroke="#3a3a3a" stroke-width="0.9" />
<line x1="45.6" y1="278.95" x2="48.1" y2="278.95" stroke="#3a3a3a" stroke-width="0.9" />
<line x1="208.6" y1="278.95" x2="206.1" y2="278.95" stroke="#3a3a3a" stroke-width="0.9" />
<line x1="45.6" y1="261.4" x2="48.1" y2="261.4" stroke="#3a3a3a" stroke-width="0.9" />
<line x1="208.6" y1="261.4" x2="206.1" y2="261.4" stroke="#3a3a3a" stroke-width="0.9" />
<line x1="45.6" y1="243.85" x2="48.1" y2="243.85" stroke="#3a3a3a" stroke-width="0.9" />
<line x1="208.6" y1="243.85" x2="206.1" y2="243.85" stroke="#3a3a3a" stroke-width="0.9" />
<line x1="45.6" y1="226.3" x2="48.1" y2="226.3" stroke="#3a3a3a" stroke-width="0.9" />
<line x1="208.6" y1="226.3" x2="206.1" y2="226.3" stroke="#3a3a3a" stroke-width="0.9" />
<line x1="45.6" y1="322.83" x2="47" y2="322.83" stroke="#3a3a3a" stroke-width="0.9" />
<line x1="208.6" y1="322.83" x2="207.2" y2="322.83" stroke="#3a3a3a" stroke-width="0.9" />
<line x1="45.6" y1="305.28" x2="47" y2="305.28" stroke="#3a3a3a" stroke-width="0.9" />
<line x1="208.6" y1="305.28" x2="207.2" y2="305.28" stroke="#3a3a3a" stroke-width="0.9" />
<line x1="45.6" y1="287.73" x2="47" y2="287.73" stroke="#3a3a3a" stroke-width="0.9" />
<line x1="208.6" y1="287.73" x2="207.2" y2="287.73" stroke="#3a3a3a" stroke-width="0.9" />
<line x1="45.6" y1="270.18" x2="47" y2="270.18" stroke="#3a3a3a" stroke-width="0.9" />
<line x1="208.6" y1="270.18" x2="207.2" y2="270.18" stroke="#3a3a3a" stroke-width="0.9" />
<line x1="45.6" y1="252.62" x2="47" y2="252.62" stroke="#3a3a3a" stroke-width="0.9" />
<line x1="208.6" y1="252.62" x2="207.2" y2="252.62" stroke="#3a3a3a" stroke-width="0.9" />
<line x1="45.6" y1="235.08" x2="47" y2="235.08" stroke="#3a3a3a" stroke-width="0.9" />
<line x1="208.6" y1="235.08" x2="207.2" y2="235.08" stroke="#3a3a3a" stroke-width="0.9" />
<line x1="45.6" y1="217.53" x2="47" y2="217.53" stroke="#3a3a3a" stroke-width="0.9" />
<line x1="208.6" y1="217.53" x2="207.2" y2="217.53" stroke="#3a3a3a" stroke-width="0.9" />
<text x="0" y="0" font-size="6.9" text-anchor="middle" fill="#1e1e1e" stroke="#1e1e1e" stroke-width="0.27" transform="translate(45.6 348.8) scale(0.88 1)">0</text>
<text x="0" y="0" font-size="6.9" text-anchor="middle" fill="#1e1e1e" stroke="#1e1e1e" stroke-width="0.27" transform="translate(59.18 348.8) scale(0.88 1)">10</text>
<text x="0" y="0" font-size="6.9" text-anchor="middle" fill="#1e1e1e" stroke="#1e1e1e" stroke-width="0.27" transform="translate(72.77 348.8) scale(0.88 1)">20</text>
<text x="0" y="0" font-size="6.9" text-anchor="middle" fill="#1e1e1e" stroke="#1e1e1e" stroke-width="0.27" transform="translate(86.35 348.8) scale(0.88 1)">30</text>
<text x="0" y="0" font-size="6.9" text-anchor="middle" fill="#1e1e1e" stroke="#1e1e1e" stroke-width="0.27" transform="translate(99.93 348.8) scale(0.88 1)">40</text>
<text x="0" y="0" font-size="6.9" text-anchor="middle" fill="#1e1e1e" stroke="#1e1e1e" stroke-width="0.27" transform="translate(113.52 348.8) scale(0.88 1)">50</text>
<text x="0" y="0" font-size="6.9" text-anchor="middle" fill="#1e1e1e" stroke="#1e1e1e" stroke-width="0.27" transform="translate(127.1 348.8) scale(0.88 1)">60</text>
<text x="0" y="0" font-size="6.9" text-anchor="middle" fill="#1e1e1e" stroke="#1e1e1e" stroke-width="0.27" transform="translate(140.68 348.8) scale(0.88 1)">70</text>
<text x="0" y="0" font-size="6.9" text-anchor="middle" fill="#1e1e1e" stroke="#1e1e1e" stroke-width="0.27" transform="translate(154.27 348.8) scale(0.88 1)">80</text>
<text x="0" y="0" font-size="6.9" text-anchor="middle" fill="#1e1e1e" stroke="#1e1e1e" stroke-width="0.27" transform="translate(167.85 348.8) scale(0.88 1)">90</text>
<text x="0" y="0" font-size="6.9" text-anchor="middle" fill="#1e1e1e" stroke="#1e1e1e" stroke-width="0.27" transform="translate(181.43 348.8) scale(0.88 1)">100</text>
<text x="0" y="0" font-size="6.9" text-anchor="middle" fill="#1e1e1e" stroke="#1e1e1e" stroke-width="0.27" transform="translate(195.02 348.8) scale(0.88 1)">110</text>
<text x="0" y="0" font-size="6.9" text-anchor="middle" fill="#1e1e1e" stroke="#1e1e1e" stroke-width="0.27" transform="translate(208.6 348.8) scale(0.88 1)">120</text>
<text x="0" y="0" font-size="6.9" text-anchor="end" fill="#1e1e1e" stroke="#1e1e1e" stroke-width="0.27" transform="translate(41.4 334.2) scale(0.88 1)">0</text>
<text x="0" y="0" font-size="6.9" text-anchor="end" fill="#1e1e1e" stroke="#1e1e1e" stroke-width="0.27" transform="translate(41.4 316.75) scale(0.95 1)">1x10<tspan dy="-2.6" font-size="4.9">24</tspan></text>
<text x="0" y="0" font-size="6.9" text-anchor="end" fill="#1e1e1e" stroke="#1e1e1e" stroke-width="0.27" transform="translate(41.4 299.2) scale(0.95 1)">2x10<tspan dy="-2.6" font-size="4.9">24</tspan></text>
<text x="0" y="0" font-size="6.9" text-anchor="end" fill="#1e1e1e" stroke="#1e1e1e" stroke-width="0.27" transform="translate(41.4 281.65) scale(0.95 1)">3x10<tspan dy="-2.6" font-size="4.9">24</tspan></text>
<text x="0" y="0" font-size="6.9" text-anchor="end" fill="#1e1e1e" stroke="#1e1e1e" stroke-width="0.27" transform="translate(41.4 264.1) scale(0.95 1)">4x10<tspan dy="-2.6" font-size="4.9">24</tspan></text>
<text x="0" y="0" font-size="6.9" text-anchor="end" fill="#1e1e1e" stroke="#1e1e1e" stroke-width="0.27" transform="translate(41.4 246.55) scale(0.95 1)">5x10<tspan dy="-2.6" font-size="4.9">24</tspan></text>
<text x="0" y="0" font-size="6.9" text-anchor="end" fill="#1e1e1e" stroke="#1e1e1e" stroke-width="0.27" transform="translate(41.4 229) scale(0.95 1)">6x10<tspan dy="-2.6" font-size="4.9">24</tspan></text>
<text x="0" y="0" font-size="6.9" text-anchor="end" fill="#1e1e1e" stroke="#1e1e1e" stroke-width="0.27" transform="translate(41.4 211.45) scale(0.95 1)">7x10<tspan dy="-2.6" font-size="4.9">24</tspan></text>
<text x="127.4" y="360.5" font-size="7.4" text-anchor="middle" fill="#1e1e1e" stroke="#1e1e1e" stroke-width="0.27">Reverse Bias (V)</text>
<text x="0" y="0" font-size="8" text-anchor="middle" fill="#1e1e1e" stroke="#1e1e1e" stroke-width="0.27" transform="translate(16.6 266.7) rotate(-90) scale(0.95 1)">1/C<tspan dy="-2.6" font-size="5">2</tspan><tspan dy="2.6"> (F</tspan><tspan dy="-2.6" font-size="5">-2</tspan><tspan dy="2.6">)</tspan></text>
<text x="55" y="225.5" font-size="6.8" text-anchor="start" fill="#1e1e1e" stroke="#1e1e1e" stroke-width="0.27">iLGAD Pad</text>
<text x="55" y="234.4" font-size="6.8" text-anchor="start" fill="#1e1e1e" stroke="#1e1e1e" stroke-width="0.27">1.0x1.0 mm<tspan dy="-1.9" font-size="4.5">2</tspan></text>
<text x="55" y="243.2" font-size="6.8" text-anchor="start" fill="#1e1e1e" stroke="#1e1e1e" stroke-width="0.27">T = 20ºC</text>
<text x="263" y="198.7" font-size="9" text-anchor="start" font-weight="bold" fill="#1e1e1e" stroke="#1e1e1e" stroke-width="0.1">(d)</text>
<path d="M295.2 329.6 C295.57 329.1 296.52 327.25 297.4 326.6 C298.28 325.95 299.68 325.97 300.5 325.7 C301.32 325.43 301.83 325.38 302.3 325 C302.77 324.62 302.98 324.23 303.3 323.4 C303.62 322.57 303.88 322.9 304.2 320 C304.52 317.1 304.9 310 305.2 306 C305.5 302 305.72 298.42 306 296 C306.28 293.58 306.53 292.7 306.9 291.5 C307.27 290.3 307.37 289.52 308.2 288.8 C309.03 288.08 309.93 287.75 311.9 287.2 C313.87 286.65 317.55 285.9 320 285.5 C322.45 285.1 320.22 285.6 326.6 284.8 C332.98 284 349.4 281.8 358.3 280.7 C367.2 279.6 373.2 279.15 380 278.2 C386.8 277.25 394.1 275.82 399.1 275 C404.1 274.18 406.82 273.87 410 273.3 C413.18 272.73 415.7 272.23 418.2 271.6 C420.7 270.97 423.12 270.3 425 269.5 C426.88 268.7 428.17 267.83 429.5 266.8 C430.83 265.77 431.68 265.07 433 263.3 C434.32 261.53 435.72 259.3 437.4 256.2 C439.08 253.1 441.35 248.47 443.1 244.7 C444.85 240.93 446.15 237.1 447.9 233.6 C449.65 230.1 451.7 226.63 453.6 223.7 C455.5 220.77 457.63 218.2 459.3 216 C460.97 213.8 462.88 211.42 463.6 210.5" fill="none" stroke="#e6312e" stroke-width="1.25" stroke-linejoin="round" stroke-linecap="round" />
<rect x="294.8" y="204" width="168.8" height="137" fill="none" stroke="#3a3a3a" stroke-width="1.0"/>
<line x1="311.68" y1="341" x2="311.68" y2="338.5" stroke="#3a3a3a" stroke-width="0.9" />
<line x1="311.68" y1="204" x2="311.68" y2="206.5" stroke="#3a3a3a" stroke-width="0.9" />
<line x1="328.56" y1="341" x2="328.56" y2="338.5" stroke="#3a3a3a" stroke-width="0.9" />
<line x1="328.56" y1="204" x2="328.56" y2="206.5" stroke="#3a3a3a" stroke-width="0.9" />
<line x1="345.44" y1="341" x2="345.44" y2="338.5" stroke="#3a3a3a" stroke-width="0.9" />
<line x1="345.44" y1="204" x2="345.44" y2="206.5" stroke="#3a3a3a" stroke-width="0.9" />
<line x1="362.32" y1="341" x2="362.32" y2="338.5" stroke="#3a3a3a" stroke-width="0.9" />
<line x1="362.32" y1="204" x2="362.32" y2="206.5" stroke="#3a3a3a" stroke-width="0.9" />
<line x1="379.2" y1="341" x2="379.2" y2="338.5" stroke="#3a3a3a" stroke-width="0.9" />
<line x1="379.2" y1="204" x2="379.2" y2="206.5" stroke="#3a3a3a" stroke-width="0.9" />
<line x1="396.08" y1="341" x2="396.08" y2="338.5" stroke="#3a3a3a" stroke-width="0.9" />
<line x1="396.08" y1="204" x2="396.08" y2="206.5" stroke="#3a3a3a" stroke-width="0.9" />
<line x1="412.96" y1="341" x2="412.96" y2="338.5" stroke="#3a3a3a" stroke-width="0.9" />
<line x1="412.96" y1="204" x2="412.96" y2="206.5" stroke="#3a3a3a" stroke-width="0.9" />
<line x1="429.84" y1="341" x2="429.84" y2="338.5" stroke="#3a3a3a" stroke-width="0.9" />
<line x1="429.84" y1="204" x2="429.84" y2="206.5" stroke="#3a3a3a" stroke-width="0.9" />
<line x1="446.72" y1="341" x2="446.72" y2="338.5" stroke="#3a3a3a" stroke-width="0.9" />
<line x1="446.72" y1="204" x2="446.72" y2="206.5" stroke="#3a3a3a" stroke-width="0.9" />
<line x1="303.24" y1="341" x2="303.24" y2="339.6" stroke="#3a3a3a" stroke-width="0.9" />
<line x1="303.24" y1="204" x2="303.24" y2="205.4" stroke="#3a3a3a" stroke-width="0.9" />
<line x1="320.12" y1="341" x2="320.12" y2="339.6" stroke="#3a3a3a" stroke-width="0.9" />
<line x1="320.12" y1="204" x2="320.12" y2="205.4" stroke="#3a3a3a" stroke-width="0.9" />
<line x1="337" y1="341" x2="337" y2="339.6" stroke="#3a3a3a" stroke-width="0.9" />
<line x1="337" y1="204" x2="337" y2="205.4" stroke="#3a3a3a" stroke-width="0.9" />
<line x1="353.88" y1="341" x2="353.88" y2="339.6" stroke="#3a3a3a" stroke-width="0.9" />
<line x1="353.88" y1="204" x2="353.88" y2="205.4" stroke="#3a3a3a" stroke-width="0.9" />
<line x1="370.76" y1="341" x2="370.76" y2="339.6" stroke="#3a3a3a" stroke-width="0.9" />
<line x1="370.76" y1="204" x2="370.76" y2="205.4" stroke="#3a3a3a" stroke-width="0.9" />
<line x1="387.64" y1="341" x2="387.64" y2="339.6" stroke="#3a3a3a" stroke-width="0.9" />
<line x1="387.64" y1="204" x2="387.64" y2="205.4" stroke="#3a3a3a" stroke-width="0.9" />
<line x1="404.52" y1="341" x2="404.52" y2="339.6" stroke="#3a3a3a" stroke-width="0.9" />
<line x1="404.52" y1="204" x2="404.52" y2="205.4" stroke="#3a3a3a" stroke-width="0.9" />
<line x1="421.4" y1="341" x2="421.4" y2="339.6" stroke="#3a3a3a" stroke-width="0.9" />
<line x1="421.4" y1="204" x2="421.4" y2="205.4" stroke="#3a3a3a" stroke-width="0.9" />
<line x1="438.28" y1="341" x2="438.28" y2="339.6" stroke="#3a3a3a" stroke-width="0.9" />
<line x1="438.28" y1="204" x2="438.28" y2="205.4" stroke="#3a3a3a" stroke-width="0.9" />
<line x1="455.16" y1="341" x2="455.16" y2="339.6" stroke="#3a3a3a" stroke-width="0.9" />
<line x1="455.16" y1="204" x2="455.16" y2="205.4" stroke="#3a3a3a" stroke-width="0.9" />
<line x1="294.8" y1="210.3" x2="297.3" y2="210.3" stroke="#3a3a3a" stroke-width="0.9" />
<line x1="463.6" y1="210.3" x2="461.1" y2="210.3" stroke="#3a3a3a" stroke-width="0.9" />
<line x1="294.8" y1="230.3" x2="297.3" y2="230.3" stroke="#3a3a3a" stroke-width="0.9" />
<line x1="463.6" y1="230.3" x2="461.1" y2="230.3" stroke="#3a3a3a" stroke-width="0.9" />
<line x1="294.8" y1="250.3" x2="297.3" y2="250.3" stroke="#3a3a3a" stroke-width="0.9" />
<line x1="463.6" y1="250.3" x2="461.1" y2="250.3" stroke="#3a3a3a" stroke-width="0.9" />
<line x1="294.8" y1="270.3" x2="297.3" y2="270.3" stroke="#3a3a3a" stroke-width="0.9" />
<line x1="463.6" y1="270.3" x2="461.1" y2="270.3" stroke="#3a3a3a" stroke-width="0.9" />
<line x1="294.8" y1="290.3" x2="297.3" y2="290.3" stroke="#3a3a3a" stroke-width="0.9" />
<line x1="463.6" y1="290.3" x2="461.1" y2="290.3" stroke="#3a3a3a" stroke-width="0.9" />
<line x1="294.8" y1="310.3" x2="297.3" y2="310.3" stroke="#3a3a3a" stroke-width="0.9" />
<line x1="463.6" y1="310.3" x2="461.1" y2="310.3" stroke="#3a3a3a" stroke-width="0.9" />
<line x1="294.8" y1="330.3" x2="297.3" y2="330.3" stroke="#3a3a3a" stroke-width="0.9" />
<line x1="463.6" y1="330.3" x2="461.1" y2="330.3" stroke="#3a3a3a" stroke-width="0.9" />
<line x1="294.8" y1="204.28" x2="296.1" y2="204.28" stroke="#3a3a3a" stroke-width="0.7" />
<line x1="463.6" y1="204.28" x2="462.3" y2="204.28" stroke="#3a3a3a" stroke-width="0.7" />
<line x1="294.8" y1="224.28" x2="296.1" y2="224.28" stroke="#3a3a3a" stroke-width="0.7" />
<line x1="463.6" y1="224.28" x2="462.3" y2="224.28" stroke="#3a3a3a" stroke-width="0.7" />
<line x1="294.8" y1="220.76" x2="296.1" y2="220.76" stroke="#3a3a3a" stroke-width="0.7" />
<line x1="463.6" y1="220.76" x2="462.3" y2="220.76" stroke="#3a3a3a" stroke-width="0.7" />
<line x1="294.8" y1="218.26" x2="296.1" y2="218.26" stroke="#3a3a3a" stroke-width="0.7" />
<line x1="463.6" y1="218.26" x2="462.3" y2="218.26" stroke="#3a3a3a" stroke-width="0.7" />
<line x1="294.8" y1="216.32" x2="296.1" y2="216.32" stroke="#3a3a3a" stroke-width="0.7" />
<line x1="463.6" y1="216.32" x2="462.3" y2="216.32" stroke="#3a3a3a" stroke-width="0.7" />
<line x1="294.8" y1="214.74" x2="296.1" y2="214.74" stroke="#3a3a3a" stroke-width="0.7" />
<line x1="463.6" y1="214.74" x2="462.3" y2="214.74" stroke="#3a3a3a" stroke-width="0.7" />
<line x1="294.8" y1="213.4" x2="296.1" y2="213.4" stroke="#3a3a3a" stroke-width="0.7" />
<line x1="463.6" y1="213.4" x2="462.3" y2="213.4" stroke="#3a3a3a" stroke-width="0.7" />
<line x1="294.8" y1="212.24" x2="296.1" y2="212.24" stroke="#3a3a3a" stroke-width="0.7" />
<line x1="463.6" y1="212.24" x2="462.3" y2="212.24" stroke="#3a3a3a" stroke-width="0.7" />
<line x1="294.8" y1="211.22" x2="296.1" y2="211.22" stroke="#3a3a3a" stroke-width="0.7" />
<line x1="463.6" y1="211.22" x2="462.3" y2="211.22" stroke="#3a3a3a" stroke-width="0.7" />
<line x1="294.8" y1="244.28" x2="296.1" y2="244.28" stroke="#3a3a3a" stroke-width="0.7" />
<line x1="463.6" y1="244.28" x2="462.3" y2="244.28" stroke="#3a3a3a" stroke-width="0.7" />
<line x1="294.8" y1="240.76" x2="296.1" y2="240.76" stroke="#3a3a3a" stroke-width="0.7" />
<line x1="463.6" y1="240.76" x2="462.3" y2="240.76" stroke="#3a3a3a" stroke-width="0.7" />
<line x1="294.8" y1="238.26" x2="296.1" y2="238.26" stroke="#3a3a3a" stroke-width="0.7" />
<line x1="463.6" y1="238.26" x2="462.3" y2="238.26" stroke="#3a3a3a" stroke-width="0.7" />
<line x1="294.8" y1="236.32" x2="296.1" y2="236.32" stroke="#3a3a3a" stroke-width="0.7" />
<line x1="463.6" y1="236.32" x2="462.3" y2="236.32" stroke="#3a3a3a" stroke-width="0.7" />
<line x1="294.8" y1="234.74" x2="296.1" y2="234.74" stroke="#3a3a3a" stroke-width="0.7" />
<line x1="463.6" y1="234.74" x2="462.3" y2="234.74" stroke="#3a3a3a" stroke-width="0.7" />
<line x1="294.8" y1="233.4" x2="296.1" y2="233.4" stroke="#3a3a3a" stroke-width="0.7" />
<line x1="463.6" y1="233.4" x2="462.3" y2="233.4" stroke="#3a3a3a" stroke-width="0.7" />
<line x1="294.8" y1="232.24" x2="296.1" y2="232.24" stroke="#3a3a3a" stroke-width="0.7" />
<line x1="463.6" y1="232.24" x2="462.3" y2="232.24" stroke="#3a3a3a" stroke-width="0.7" />
<line x1="294.8" y1="231.22" x2="296.1" y2="231.22" stroke="#3a3a3a" stroke-width="0.7" />
<line x1="463.6" y1="231.22" x2="462.3" y2="231.22" stroke="#3a3a3a" stroke-width="0.7" />
<line x1="294.8" y1="264.28" x2="296.1" y2="264.28" stroke="#3a3a3a" stroke-width="0.7" />
<line x1="463.6" y1="264.28" x2="462.3" y2="264.28" stroke="#3a3a3a" stroke-width="0.7" />
<line x1="294.8" y1="260.76" x2="296.1" y2="260.76" stroke="#3a3a3a" stroke-width="0.7" />
<line x1="463.6" y1="260.76" x2="462.3" y2="260.76" stroke="#3a3a3a" stroke-width="0.7" />
<line x1="294.8" y1="258.26" x2="296.1" y2="258.26" stroke="#3a3a3a" stroke-width="0.7" />
<line x1="463.6" y1="258.26" x2="462.3" y2="258.26" stroke="#3a3a3a" stroke-width="0.7" />
<line x1="294.8" y1="256.32" x2="296.1" y2="256.32" stroke="#3a3a3a" stroke-width="0.7" />
<line x1="463.6" y1="256.32" x2="462.3" y2="256.32" stroke="#3a3a3a" stroke-width="0.7" />
<line x1="294.8" y1="254.74" x2="296.1" y2="254.74" stroke="#3a3a3a" stroke-width="0.7" />
<line x1="463.6" y1="254.74" x2="462.3" y2="254.74" stroke="#3a3a3a" stroke-width="0.7" />
<line x1="294.8" y1="253.4" x2="296.1" y2="253.4" stroke="#3a3a3a" stroke-width="0.7" />
<line x1="463.6" y1="253.4" x2="462.3" y2="253.4" stroke="#3a3a3a" stroke-width="0.7" />
<line x1="294.8" y1="252.24" x2="296.1" y2="252.24" stroke="#3a3a3a" stroke-width="0.7" />
<line x1="463.6" y1="252.24" x2="462.3" y2="252.24" stroke="#3a3a3a" stroke-width="0.7" />
<line x1="294.8" y1="251.22" x2="296.1" y2="251.22" stroke="#3a3a3a" stroke-width="0.7" />
<line x1="463.6" y1="251.22" x2="462.3" y2="251.22" stroke="#3a3a3a" stroke-width="0.7" />
<line x1="294.8" y1="284.28" x2="296.1" y2="284.28" stroke="#3a3a3a" stroke-width="0.7" />
<line x1="463.6" y1="284.28" x2="462.3" y2="284.28" stroke="#3a3a3a" stroke-width="0.7" />
<line x1="294.8" y1="280.76" x2="296.1" y2="280.76" stroke="#3a3a3a" stroke-width="0.7" />
<line x1="463.6" y1="280.76" x2="462.3" y2="280.76" stroke="#3a3a3a" stroke-width="0.7" />
<line x1="294.8" y1="278.26" x2="296.1" y2="278.26" stroke="#3a3a3a" stroke-width="0.7" />
<line x1="463.6" y1="278.26" x2="462.3" y2="278.26" stroke="#3a3a3a" stroke-width="0.7" />
<line x1="294.8" y1="276.32" x2="296.1" y2="276.32" stroke="#3a3a3a" stroke-width="0.7" />
<line x1="463.6" y1="276.32" x2="462.3" y2="276.32" stroke="#3a3a3a" stroke-width="0.7" />
<line x1="294.8" y1="274.74" x2="296.1" y2="274.74" stroke="#3a3a3a" stroke-width="0.7" />
<line x1="463.6" y1="274.74" x2="462.3" y2="274.74" stroke="#3a3a3a" stroke-width="0.7" />
<line x1="294.8" y1="273.4" x2="296.1" y2="273.4" stroke="#3a3a3a" stroke-width="0.7" />
<line x1="463.6" y1="273.4" x2="462.3" y2="273.4" stroke="#3a3a3a" stroke-width="0.7" />
<line x1="294.8" y1="272.24" x2="296.1" y2="272.24" stroke="#3a3a3a" stroke-width="0.7" />
<line x1="463.6" y1="272.24" x2="462.3" y2="272.24" stroke="#3a3a3a" stroke-width="0.7" />
<line x1="294.8" y1="271.22" x2="296.1" y2="271.22" stroke="#3a3a3a" stroke-width="0.7" />
<line x1="463.6" y1="271.22" x2="462.3" y2="271.22" stroke="#3a3a3a" stroke-width="0.7" />
<line x1="294.8" y1="304.28" x2="296.1" y2="304.28" stroke="#3a3a3a" stroke-width="0.7" />
<line x1="463.6" y1="304.28" x2="462.3" y2="304.28" stroke="#3a3a3a" stroke-width="0.7" />
<line x1="294.8" y1="300.76" x2="296.1" y2="300.76" stroke="#3a3a3a" stroke-width="0.7" />
<line x1="463.6" y1="300.76" x2="462.3" y2="300.76" stroke="#3a3a3a" stroke-width="0.7" />
<line x1="294.8" y1="298.26" x2="296.1" y2="298.26" stroke="#3a3a3a" stroke-width="0.7" />
<line x1="463.6" y1="298.26" x2="462.3" y2="298.26" stroke="#3a3a3a" stroke-width="0.7" />
<line x1="294.8" y1="296.32" x2="296.1" y2="296.32" stroke="#3a3a3a" stroke-width="0.7" />
<line x1="463.6" y1="296.32" x2="462.3" y2="296.32" stroke="#3a3a3a" stroke-width="0.7" />
<line x1="294.8" y1="294.74" x2="296.1" y2="294.74" stroke="#3a3a3a" stroke-width="0.7" />
<line x1="463.6" y1="294.74" x2="462.3" y2="294.74" stroke="#3a3a3a" stroke-width="0.7" />
<line x1="294.8" y1="293.4" x2="296.1" y2="293.4" stroke="#3a3a3a" stroke-width="0.7" />
<line x1="463.6" y1="293.4" x2="462.3" y2="293.4" stroke="#3a3a3a" stroke-width="0.7" />
<line x1="294.8" y1="292.24" x2="296.1" y2="292.24" stroke="#3a3a3a" stroke-width="0.7" />
<line x1="463.6" y1="292.24" x2="462.3" y2="292.24" stroke="#3a3a3a" stroke-width="0.7" />
<line x1="294.8" y1="291.22" x2="296.1" y2="291.22" stroke="#3a3a3a" stroke-width="0.7" />
<line x1="463.6" y1="291.22" x2="462.3" y2="291.22" stroke="#3a3a3a" stroke-width="0.7" />
<line x1="294.8" y1="324.28" x2="296.1" y2="324.28" stroke="#3a3a3a" stroke-width="0.7" />
<line x1="463.6" y1="324.28" x2="462.3" y2="324.28" stroke="#3a3a3a" stroke-width="0.7" />
<line x1="294.8" y1="320.76" x2="296.1" y2="320.76" stroke="#3a3a3a" stroke-width="0.7" />
<line x1="463.6" y1="320.76" x2="462.3" y2="320.76" stroke="#3a3a3a" stroke-width="0.7" />
<line x1="294.8" y1="318.26" x2="296.1" y2="318.26" stroke="#3a3a3a" stroke-width="0.7" />
<line x1="463.6" y1="318.26" x2="462.3" y2="318.26" stroke="#3a3a3a" stroke-width="0.7" />
<line x1="294.8" y1="316.32" x2="296.1" y2="316.32" stroke="#3a3a3a" stroke-width="0.7" />
<line x1="463.6" y1="316.32" x2="462.3" y2="316.32" stroke="#3a3a3a" stroke-width="0.7" />
<line x1="294.8" y1="314.74" x2="296.1" y2="314.74" stroke="#3a3a3a" stroke-width="0.7" />
<line x1="463.6" y1="314.74" x2="462.3" y2="314.74" stroke="#3a3a3a" stroke-width="0.7" />
<line x1="294.8" y1="313.4" x2="296.1" y2="313.4" stroke="#3a3a3a" stroke-width="0.7" />
<line x1="463.6" y1="313.4" x2="462.3" y2="313.4" stroke="#3a3a3a" stroke-width="0.7" />
<line x1="294.8" y1="312.24" x2="296.1" y2="312.24" stroke="#3a3a3a" stroke-width="0.7" />
<line x1="463.6" y1="312.24" x2="462.3" y2="312.24" stroke="#3a3a3a" stroke-width="0.7" />
<line x1="294.8" y1="311.22" x2="296.1" y2="311.22" stroke="#3a3a3a" stroke-width="0.7" />
<line x1="463.6" y1="311.22" x2="462.3" y2="311.22" stroke="#3a3a3a" stroke-width="0.7" />
<line x1="294.8" y1="340.76" x2="296.1" y2="340.76" stroke="#3a3a3a" stroke-width="0.7" />
<line x1="463.6" y1="340.76" x2="462.3" y2="340.76" stroke="#3a3a3a" stroke-width="0.7" />
<line x1="294.8" y1="338.26" x2="296.1" y2="338.26" stroke="#3a3a3a" stroke-width="0.7" />
<line x1="463.6" y1="338.26" x2="462.3" y2="338.26" stroke="#3a3a3a" stroke-width="0.7" />
<line x1="294.8" y1="336.32" x2="296.1" y2="336.32" stroke="#3a3a3a" stroke-width="0.7" />
<line x1="463.6" y1="336.32" x2="462.3" y2="336.32" stroke="#3a3a3a" stroke-width="0.7" />
<line x1="294.8" y1="334.74" x2="296.1" y2="334.74" stroke="#3a3a3a" stroke-width="0.7" />
<line x1="463.6" y1="334.74" x2="462.3" y2="334.74" stroke="#3a3a3a" stroke-width="0.7" />
<line x1="294.8" y1="333.4" x2="296.1" y2="333.4" stroke="#3a3a3a" stroke-width="0.7" />
<line x1="463.6" y1="333.4" x2="462.3" y2="333.4" stroke="#3a3a3a" stroke-width="0.7" />
<line x1="294.8" y1="332.24" x2="296.1" y2="332.24" stroke="#3a3a3a" stroke-width="0.7" />
<line x1="463.6" y1="332.24" x2="462.3" y2="332.24" stroke="#3a3a3a" stroke-width="0.7" />
<line x1="294.8" y1="331.22" x2="296.1" y2="331.22" stroke="#3a3a3a" stroke-width="0.7" />
<line x1="463.6" y1="331.22" x2="462.3" y2="331.22" stroke="#3a3a3a" stroke-width="0.7" />
<text x="0" y="0" font-size="6.8" text-anchor="middle" fill="#1e1e1e" stroke="#1e1e1e" stroke-width="0.27" transform="translate(294.8 349.6) scale(0.97 1)">0</text>
<text x="0" y="0" font-size="6.8" text-anchor="middle" fill="#1e1e1e" stroke="#1e1e1e" stroke-width="0.27" transform="translate(311.68 349.6) scale(0.97 1)">50</text>
<text x="0" y="0" font-size="6.8" text-anchor="middle" fill="#1e1e1e" stroke="#1e1e1e" stroke-width="0.27" transform="translate(328.56 349.6) scale(0.97 1)">100</text>
<text x="0" y="0" font-size="6.8" text-anchor="middle" fill="#1e1e1e" stroke="#1e1e1e" stroke-width="0.27" transform="translate(345.44 349.6) scale(0.97 1)">150</text>
<text x="0" y="0" font-size="6.8" text-anchor="middle" fill="#1e1e1e" stroke="#1e1e1e" stroke-width="0.27" transform="translate(362.32 349.6) scale(0.97 1)">200</text>
<text x="0" y="0" font-size="6.8" text-anchor="middle" fill="#1e1e1e" stroke="#1e1e1e" stroke-width="0.27" transform="translate(379.2 349.6) scale(0.97 1)">250</text>
<text x="0" y="0" font-size="6.8" text-anchor="middle" fill="#1e1e1e" stroke="#1e1e1e" stroke-width="0.27" transform="translate(396.08 349.6) scale(0.97 1)">300</text>
<text x="0" y="0" font-size="6.8" text-anchor="middle" fill="#1e1e1e" stroke="#1e1e1e" stroke-width="0.27" transform="translate(412.96 349.6) scale(0.97 1)">350</text>
<text x="0" y="0" font-size="6.8" text-anchor="middle" fill="#1e1e1e" stroke="#1e1e1e" stroke-width="0.27" transform="translate(429.84 349.6) scale(0.97 1)">400</text>
<text x="0" y="0" font-size="6.8" text-anchor="middle" fill="#1e1e1e" stroke="#1e1e1e" stroke-width="0.27" transform="translate(446.72 349.6) scale(0.97 1)">450</text>
<text x="0" y="0" font-size="6.8" text-anchor="middle" fill="#1e1e1e" stroke="#1e1e1e" stroke-width="0.27" transform="translate(463.6 349.6) scale(0.97 1)">500</text>
<text x="0" y="0" font-size="7.3" text-anchor="end" fill="#1e1e1e" stroke="#1e1e1e" stroke-width="0.27" transform="translate(291.6 212.9) scale(0.92 1)">10<tspan dy="-2.9" font-size="4.6">-4</tspan></text>
<text x="0" y="0" font-size="7.3" text-anchor="end" fill="#1e1e1e" stroke="#1e1e1e" stroke-width="0.27" transform="translate(291.6 232.9) scale(0.92 1)">10<tspan dy="-2.9" font-size="4.6">-5</tspan></text>
<text x="0" y="0" font-size="7.3" text-anchor="end" fill="#1e1e1e" stroke="#1e1e1e" stroke-width="0.27" transform="translate(291.6 252.9) scale(0.92 1)">10<tspan dy="-2.9" font-size="4.6">-6</tspan></text>
<text x="0" y="0" font-size="7.3" text-anchor="end" fill="#1e1e1e" stroke="#1e1e1e" stroke-width="0.27" transform="translate(291.6 272.9) scale(0.92 1)">10<tspan dy="-2.9" font-size="4.6">-7</tspan></text>
<text x="0" y="0" font-size="7.3" text-anchor="end" fill="#1e1e1e" stroke="#1e1e1e" stroke-width="0.27" transform="translate(291.6 292.9) scale(0.92 1)">10<tspan dy="-2.9" font-size="4.6">-8</tspan></text>
<text x="0" y="0" font-size="7.3" text-anchor="end" fill="#1e1e1e" stroke="#1e1e1e" stroke-width="0.27" transform="translate(291.6 312.9) scale(0.92 1)">10<tspan dy="-2.9" font-size="4.6">-9</tspan></text>
<text x="0" y="0" font-size="7.3" text-anchor="end" fill="#1e1e1e" stroke="#1e1e1e" stroke-width="0.27" transform="translate(291.6 332.9) scale(0.92 1)">10<tspan dy="-2.9" font-size="4.6">-10</tspan></text>
<text x="379.9" y="362.2" font-size="7.8" text-anchor="middle" fill="#1e1e1e" stroke="#1e1e1e" stroke-width="0.3">Reverse Bias (V)</text>
<text x="0" y="0" font-size="7.8" text-anchor="middle" fill="#1e1e1e" stroke="#1e1e1e" stroke-width="0.28" transform="translate(270.4 266) rotate(-90) scale(0.92 1)">Current (A)</text>
<text x="306.1" y="218.1" font-size="6.8" text-anchor="start" fill="#1e1e1e" stroke="#1e1e1e" stroke-width="0.27">iLGAD Pad</text>
<text x="306.1" y="227.4" font-size="6.8" text-anchor="start" fill="#1e1e1e" stroke="#1e1e1e" stroke-width="0.27">1.0x1.0 mm<tspan dy="-1.9" font-size="4.5">2</tspan></text>
<text x="306.1" y="236.7" font-size="6.8" text-anchor="start" fill="#1e1e1e" stroke="#1e1e1e" stroke-width="0.27">T = 20ºC</text>
<text x="5.2" y="375" font-size="9" text-anchor="start" font-weight="bold" fill="#1e1e1e" stroke="#1e1e1e" stroke-width="0.1">(e)</text>
<line x1="37.5" y1="458.4" x2="208.7" y2="458.4" stroke="#222" stroke-width="1.0" stroke-dasharray="2.0 1.3"/>
<path d="M37.2 395.2 C38.75 395.25 43.18 395.17 46.5 395.5 C49.82 395.83 54.28 396.52 57.1 397.2 C59.92 397.88 61.72 398.53 63.4 399.6 C65.08 400.67 66.05 401.7 67.2 403.6 C68.35 405.5 69.23 408.02 70.3 411 C71.37 413.98 72.47 417.75 73.6 421.5 C74.73 425.25 75.8 429.38 77.1 433.5 C78.4 437.62 79.97 442.05 81.4 446.2 C82.83 450.35 84.1 454.5 85.7 458.4 C87.3 462.3 89.28 465.92 91 469.6 C92.72 473.28 94.47 477.07 96 480.5 C97.53 483.93 98.83 487.25 100.2 490.2 C101.57 493.15 102.83 495.93 104.2 498.2 C105.57 500.47 106.93 502.27 108.4 503.8 C109.87 505.33 111.32 506.52 113 507.4 C114.68 508.28 115.67 508.78 118.5 509.1 C121.33 509.42 115.05 509.27 130 509.3 C144.95 509.33 195.17 509.3 208.2 509.3" fill="none" stroke="#e41c1c" stroke-width="2.0" stroke-linejoin="round" stroke-linecap="round" />
<circle cx="85.8" cy="458.4" r="4.6" fill="none" stroke="#333" stroke-width="0.9"/>
<line x1="90" y1="454.8" x2="94.5" y2="450.2" stroke="#222" stroke-width="0.9" />
<polygon points="97,447.6 92.3,449.6 95.0,452.2" fill="#222"/>
<line x1="179.6" y1="467" x2="179.6" y2="461.5" stroke="#222" stroke-width="0.9" />
<polygon points="179.6,459.2 178.0,462.6 181.2,462.6" fill="#222"/>
<rect x="36.7" y="384.4" width="172" height="138.8" fill="none" stroke="#3a3a3a" stroke-width="1.0"/>
<line x1="51.03" y1="523.2" x2="51.03" y2="520.7" stroke="#3a3a3a" stroke-width="0.9" />
<line x1="51.03" y1="384.4" x2="51.03" y2="386.9" stroke="#3a3a3a" stroke-width="0.9" />
<line x1="65.37" y1="523.2" x2="65.37" y2="520.7" stroke="#3a3a3a" stroke-width="0.9" />
<line x1="65.37" y1="384.4" x2="65.37" y2="386.9" stroke="#3a3a3a" stroke-width="0.9" />
<line x1="79.7" y1="523.2" x2="79.7" y2="520.7" stroke="#3a3a3a" stroke-width="0.9" />
<line x1="79.7" y1="384.4" x2="79.7" y2="386.9" stroke="#3a3a3a" stroke-width="0.9" />
<line x1="94.03" y1="523.2" x2="94.03" y2="520.7" stroke="#3a3a3a" stroke-width="0.9" />
<line x1="94.03" y1="384.4" x2="94.03" y2="386.9" stroke="#3a3a3a" stroke-width="0.9" />
<line x1="108.37" y1="523.2" x2="108.37" y2="520.7" stroke="#3a3a3a" stroke-width="0.9" />
<line x1="108.37" y1="384.4" x2="108.37" y2="386.9" stroke="#3a3a3a" stroke-width="0.9" />
<line x1="122.7" y1="523.2" x2="122.7" y2="520.7" stroke="#3a3a3a" stroke-width="0.9" />
<line x1="122.7" y1="384.4" x2="122.7" y2="386.9" stroke="#3a3a3a" stroke-width="0.9" />
<line x1="137.03" y1="523.2" x2="137.03" y2="520.7" stroke="#3a3a3a" stroke-width="0.9" />
<line x1="137.03" y1="384.4" x2="137.03" y2="386.9" stroke="#3a3a3a" stroke-width="0.9" />
<line x1="151.37" y1="523.2" x2="151.37" y2="520.7" stroke="#3a3a3a" stroke-width="0.9" />
<line x1="151.37" y1="384.4" x2="151.37" y2="386.9" stroke="#3a3a3a" stroke-width="0.9" />
<line x1="165.7" y1="523.2" x2="165.7" y2="520.7" stroke="#3a3a3a" stroke-width="0.9" />
<line x1="165.7" y1="384.4" x2="165.7" y2="386.9" stroke="#3a3a3a" stroke-width="0.9" />
<line x1="180.03" y1="523.2" x2="180.03" y2="520.7" stroke="#3a3a3a" stroke-width="0.9" />
<line x1="180.03" y1="384.4" x2="180.03" y2="386.9" stroke="#3a3a3a" stroke-width="0.9" />
<line x1="194.37" y1="523.2" x2="194.37" y2="520.7" stroke="#3a3a3a" stroke-width="0.9" />
<line x1="194.37" y1="384.4" x2="194.37" y2="386.9" stroke="#3a3a3a" stroke-width="0.9" />
<line x1="43.87" y1="523.2" x2="43.87" y2="521.8" stroke="#3a3a3a" stroke-width="0.9" />
<line x1="43.87" y1="384.4" x2="43.87" y2="385.8" stroke="#3a3a3a" stroke-width="0.9" />
<line x1="58.2" y1="523.2" x2="58.2" y2="521.8" stroke="#3a3a3a" stroke-width="0.9" />
<line x1="58.2" y1="384.4" x2="58.2" y2="385.8" stroke="#3a3a3a" stroke-width="0.9" />
<line x1="72.53" y1="523.2" x2="72.53" y2="521.8" stroke="#3a3a3a" stroke-width="0.9" />
<line x1="72.53" y1="384.4" x2="72.53" y2="385.8" stroke="#3a3a3a" stroke-width="0.9" />
<line x1="86.87" y1="523.2" x2="86.87" y2="521.8" stroke="#3a3a3a" stroke-width="0.9" />
<line x1="86.87" y1="384.4" x2="86.87" y2="385.8" stroke="#3a3a3a" stroke-width="0.9" />
<line x1="101.2" y1="523.2" x2="101.2" y2="521.8" stroke="#3a3a3a" stroke-width="0.9" />
<line x1="101.2" y1="384.4" x2="101.2" y2="385.8" stroke="#3a3a3a" stroke-width="0.9" />
<line x1="115.53" y1="523.2" x2="115.53" y2="521.8" stroke="#3a3a3a" stroke-width="0.9" />
<line x1="115.53" y1="384.4" x2="115.53" y2="385.8" stroke="#3a3a3a" stroke-width="0.9" />
<line x1="129.87" y1="523.2" x2="129.87" y2="521.8" stroke="#3a3a3a" stroke-width="0.9" />
<line x1="129.87" y1="384.4" x2="129.87" y2="385.8" stroke="#3a3a3a" stroke-width="0.9" />
<line x1="144.2" y1="523.2" x2="144.2" y2="521.8" stroke="#3a3a3a" stroke-width="0.9" />
<line x1="144.2" y1="384.4" x2="144.2" y2="385.8" stroke="#3a3a3a" stroke-width="0.9" />
<line x1="158.53" y1="523.2" x2="158.53" y2="521.8" stroke="#3a3a3a" stroke-width="0.9" />
<line x1="158.53" y1="384.4" x2="158.53" y2="385.8" stroke="#3a3a3a" stroke-width="0.9" />
<line x1="172.87" y1="523.2" x2="172.87" y2="521.8" stroke="#3a3a3a" stroke-width="0.9" />
<line x1="172.87" y1="384.4" x2="172.87" y2="385.8" stroke="#3a3a3a" stroke-width="0.9" />
<line x1="187.2" y1="523.2" x2="187.2" y2="521.8" stroke="#3a3a3a" stroke-width="0.9" />
<line x1="187.2" y1="384.4" x2="187.2" y2="385.8" stroke="#3a3a3a" stroke-width="0.9" />
<line x1="201.53" y1="523.2" x2="201.53" y2="521.8" stroke="#3a3a3a" stroke-width="0.9" />
<line x1="201.53" y1="384.4" x2="201.53" y2="385.8" stroke="#3a3a3a" stroke-width="0.9" />
<line x1="36.7" y1="500" x2="39.2" y2="500" stroke="#3a3a3a" stroke-width="0.9" />
<line x1="208.7" y1="500" x2="206.2" y2="500" stroke="#3a3a3a" stroke-width="0.9" />
<line x1="36.7" y1="476.8" x2="39.2" y2="476.8" stroke="#3a3a3a" stroke-width="0.9" />
<line x1="208.7" y1="476.8" x2="206.2" y2="476.8" stroke="#3a3a3a" stroke-width="0.9" />
<line x1="36.7" y1="453.6" x2="39.2" y2="453.6" stroke="#3a3a3a" stroke-width="0.9" />
<line x1="208.7" y1="453.6" x2="206.2" y2="453.6" stroke="#3a3a3a" stroke-width="0.9" />
<line x1="36.7" y1="430.4" x2="39.2" y2="430.4" stroke="#3a3a3a" stroke-width="0.9" />
<line x1="208.7" y1="430.4" x2="206.2" y2="430.4" stroke="#3a3a3a" stroke-width="0.9" />
<line x1="36.7" y1="407.2" x2="39.2" y2="407.2" stroke="#3a3a3a" stroke-width="0.9" />
<line x1="208.7" y1="407.2" x2="206.2" y2="407.2" stroke="#3a3a3a" stroke-width="0.9" />
<line x1="36.7" y1="511.6" x2="38.1" y2="511.6" stroke="#3a3a3a" stroke-width="0.9" />
<line x1="208.7" y1="511.6" x2="207.3" y2="511.6" stroke="#3a3a3a" stroke-width="0.9" />
<line x1="36.7" y1="488.4" x2="38.1" y2="488.4" stroke="#3a3a3a" stroke-width="0.9" />
<line x1="208.7" y1="488.4" x2="207.3" y2="488.4" stroke="#3a3a3a" stroke-width="0.9" />
<line x1="36.7" y1="465.2" x2="38.1" y2="465.2" stroke="#3a3a3a" stroke-width="0.9" />
<line x1="208.7" y1="465.2" x2="207.3" y2="465.2" stroke="#3a3a3a" stroke-width="0.9" />
<line x1="36.7" y1="442" x2="38.1" y2="442" stroke="#3a3a3a" stroke-width="0.9" />
<line x1="208.7" y1="442" x2="207.3" y2="442" stroke="#3a3a3a" stroke-width="0.9" />
<line x1="36.7" y1="418.8" x2="38.1" y2="418.8" stroke="#3a3a3a" stroke-width="0.9" />
<line x1="208.7" y1="418.8" x2="207.3" y2="418.8" stroke="#3a3a3a" stroke-width="0.9" />
<line x1="36.7" y1="395.6" x2="38.1" y2="395.6" stroke="#3a3a3a" stroke-width="0.9" />
<line x1="208.7" y1="395.6" x2="207.3" y2="395.6" stroke="#3a3a3a" stroke-width="0.9" />
<text x="0" y="0" font-size="6.9" text-anchor="middle" fill="#1e1e1e" stroke="#1e1e1e" stroke-width="0.27" transform="translate(36.7 531.7) scale(0.88 1)">-10</text>
<text x="0" y="0" font-size="6.9" text-anchor="middle" fill="#1e1e1e" stroke="#1e1e1e" stroke-width="0.27" transform="translate(51.03 531.7) scale(0.88 1)">-9</text>
<text x="0" y="0" font-size="6.9" text-anchor="middle" fill="#1e1e1e" stroke="#1e1e1e" stroke-width="0.27" transform="translate(65.37 531.7) scale(0.88 1)">-8</text>
<text x="0" y="0" font-size="6.9" text-anchor="middle" fill="#1e1e1e" stroke="#1e1e1e" stroke-width="0.27" transform="translate(79.7 531.7) scale(0.88 1)">-7</text>
<text x="0" y="0" font-size="6.9" text-anchor="middle" fill="#1e1e1e" stroke="#1e1e1e" stroke-width="0.27" transform="translate(94.03 531.7) scale(0.88 1)">-6</text>
<text x="0" y="0" font-size="6.9" text-anchor="middle" fill="#1e1e1e" stroke="#1e1e1e" stroke-width="0.27" transform="translate(108.37 531.7) scale(0.88 1)">-5</text>
<text x="0" y="0" font-size="6.9" text-anchor="middle" fill="#1e1e1e" stroke="#1e1e1e" stroke-width="0.27" transform="translate(122.7 531.7) scale(0.88 1)">-4</text>
<text x="0" y="0" font-size="6.9" text-anchor="middle" fill="#1e1e1e" stroke="#1e1e1e" stroke-width="0.27" transform="translate(137.03 531.7) scale(0.88 1)">-3</text>
<text x="0" y="0" font-size="6.9" text-anchor="middle" fill="#1e1e1e" stroke="#1e1e1e" stroke-width="0.27" transform="translate(151.37 531.7) scale(0.88 1)">-2</text>
<text x="0" y="0" font-size="6.9" text-anchor="middle" fill="#1e1e1e" stroke="#1e1e1e" stroke-width="0.27" transform="translate(165.7 531.7) scale(0.88 1)">-1</text>
<text x="0" y="0" font-size="6.9" text-anchor="middle" fill="#1e1e1e" stroke="#1e1e1e" stroke-width="0.27" transform="translate(180.03 531.7) scale(0.88 1)">0</text>
<text x="0" y="0" font-size="6.9" text-anchor="middle" fill="#1e1e1e" stroke="#1e1e1e" stroke-width="0.27" transform="translate(194.37 531.7) scale(0.88 1)">1</text>
<text x="0" y="0" font-size="6.9" text-anchor="middle" fill="#1e1e1e" stroke="#1e1e1e" stroke-width="0.27" transform="translate(208.7 531.7) scale(0.88 1)">2</text>
<text x="0" y="0" font-size="7.5" text-anchor="end" fill="#1e1e1e" stroke="#1e1e1e" stroke-width="0.27" transform="translate(34 525.8) scale(0.92 1)">0</text>
<text x="0" y="0" font-size="7.5" text-anchor="end" fill="#1e1e1e" stroke="#1e1e1e" stroke-width="0.27" transform="translate(34 502.6) scale(0.92 1)">5</text>
<text x="0" y="0" font-size="7.5" text-anchor="end" fill="#1e1e1e" stroke="#1e1e1e" stroke-width="0.27" transform="translate(34 479.4) scale(0.92 1)">10</text>
<text x="0" y="0" font-size="7.5" text-anchor="end" fill="#1e1e1e" stroke="#1e1e1e" stroke-width="0.27" transform="translate(34 456.2) scale(0.92 1)">15</text>
<text x="0" y="0" font-size="7.5" text-anchor="end" fill="#1e1e1e" stroke="#1e1e1e" stroke-width="0.27" transform="translate(34 433) scale(0.92 1)">20</text>
<text x="0" y="0" font-size="7.5" text-anchor="end" fill="#1e1e1e" stroke="#1e1e1e" stroke-width="0.27" transform="translate(34 409.8) scale(0.92 1)">25</text>
<text x="0" y="0" font-size="7.5" text-anchor="end" fill="#1e1e1e" stroke="#1e1e1e" stroke-width="0.27" transform="translate(34 386.6) scale(0.92 1)">30</text>
<text x="0" y="0" font-size="7.9" text-anchor="middle" fill="#1e1e1e" stroke="#1e1e1e" stroke-width="0.28" transform="translate(123.2 544.4) scale(0.97 1)">Voltage (V)</text>
<text x="0" y="0" font-size="8.3" text-anchor="middle" fill="#1e1e1e" stroke="#1e1e1e" stroke-width="0.28" transform="translate(20 444.2) rotate(-90) scale(0.96 1)">Capacitance (pF)</text>
<text x="146.1" y="396.6" font-size="7.2" text-anchor="start" fill="#1e1e1e" stroke="#1e1e1e" stroke-width="0.27">MOS capacitor</text>
<text x="146.1" y="405.6" font-size="7.2" text-anchor="start" fill="#1e1e1e" stroke="#1e1e1e" stroke-width="0.27">1.0x1.0 mm<tspan dy="-1.9" font-size="4.7">2</tspan></text>
<text x="146.1" y="415" font-size="7.2" text-anchor="start" fill="#1e1e1e" stroke="#1e1e1e" stroke-width="0.27">T = 20 ºC</text>
<text x="146.1" y="423.8" font-size="7.2" text-anchor="start" fill="#1e1e1e" stroke="#1e1e1e" stroke-width="0.27">f = 10 kHz</text>
<text x="98.1" y="447.4" font-size="7" text-anchor="start" fill="#1e1e1e" stroke="#1e1e1e" stroke-width="0.27">V<tspan dy="1.54" font-size="4.62">FB</tspan><tspan dy="-1.54"> = -6.59 V</tspan></text>
<text x="161.9" y="474.3" font-size="7" text-anchor="start" fill="#1e1e1e" stroke="#1e1e1e" stroke-width="0.27">C<tspan dy="1.54" font-size="4.62">FB</tspan><tspan dy="-1.54"> = 14 pF</tspan></text>
<text x="263.1" y="375" font-size="9.4" text-anchor="start" fill="#1e1e1e" stroke="#1e1e1e" stroke-width="0.4">(f)</text>
<path d="M295.21 517.7 L300.12 517.7 L305.03 517.7 L309.94 514.98 L314.85 498.63 L319.76 482.82 L324.67 464.84 L329.58 452.3 L334.49 446.31 L339.4 444.13 L344.31 442.49 L349.22 441.13 L354.13 439.22 L359.04 437.59 L363.95 435.41 L368.86 433.77 L373.77 437.59 L378.68 430.5 L383.59 428.32 L388.5 426.14 L393.41 424.51 L398.32 422.33 L403.23 419.76 L408.14 417.42 L413.05 414.7 L417.96 411.97 L422.87 409.25 L427.78 406.52 L432.69 404.34 L437.6 401.07 L442.51 398.35 L447.42 394.53 L452.33 391.26 L457.24 391.81" fill="none" stroke="#e82a2e" stroke-width="0.9" stroke-linejoin="round" stroke-linecap="round" />
<ellipse cx="295.21" cy="517.7" rx="2.0" ry="2.2" fill="#fff" stroke="#e82a2e" stroke-width="1.1"/>
<ellipse cx="300.12" cy="517.7" rx="2.0" ry="2.2" fill="#fff" stroke="#e82a2e" stroke-width="1.1"/>
<ellipse cx="305.03" cy="517.7" rx="2.0" ry="2.2" fill="#fff" stroke="#e82a2e" stroke-width="1.1"/>
<ellipse cx="309.94" cy="514.98" rx="2.0" ry="2.2" fill="#fff" stroke="#e82a2e" stroke-width="1.1"/>
<ellipse cx="314.85" cy="498.63" rx="2.0" ry="2.2" fill="#fff" stroke="#e82a2e" stroke-width="1.1"/>
<ellipse cx="319.76" cy="482.82" rx="2.0" ry="2.2" fill="#fff" stroke="#e82a2e" stroke-width="1.1"/>
<ellipse cx="324.67" cy="464.84" rx="2.0" ry="2.2" fill="#fff" stroke="#e82a2e" stroke-width="1.1"/>
<ellipse cx="329.58" cy="452.3" rx="2.0" ry="2.2" fill="#fff" stroke="#e82a2e" stroke-width="1.1"/>
<ellipse cx="334.49" cy="446.31" rx="2.0" ry="2.2" fill="#fff" stroke="#e82a2e" stroke-width="1.1"/>
<ellipse cx="339.4" cy="444.13" rx="2.0" ry="2.2" fill="#fff" stroke="#e82a2e" stroke-width="1.1"/>
<ellipse cx="344.31" cy="442.49" rx="2.0" ry="2.2" fill="#fff" stroke="#e82a2e" stroke-width="1.1"/>
<ellipse cx="349.22" cy="441.13" rx="2.0" ry="2.2" fill="#fff" stroke="#e82a2e" stroke-width="1.1"/>
<ellipse cx="354.13" cy="439.22" rx="2.0" ry="2.2" fill="#fff" stroke="#e82a2e" stroke-width="1.1"/>
<ellipse cx="359.04" cy="437.59" rx="2.0" ry="2.2" fill="#fff" stroke="#e82a2e" stroke-width="1.1"/>
<ellipse cx="363.95" cy="435.41" rx="2.0" ry="2.2" fill="#fff" stroke="#e82a2e" stroke-width="1.1"/>
<ellipse cx="368.86" cy="433.77" rx="2.0" ry="2.2" fill="#fff" stroke="#e82a2e" stroke-width="1.1"/>
<ellipse cx="373.77" cy="437.59" rx="2.0" ry="2.2" fill="#fff" stroke="#e82a2e" stroke-width="1.1"/>
<ellipse cx="378.68" cy="430.5" rx="2.0" ry="2.2" fill="#fff" stroke="#e82a2e" stroke-width="1.1"/>
<ellipse cx="383.59" cy="428.32" rx="2.0" ry="2.2" fill="#fff" stroke="#e82a2e" stroke-width="1.1"/>
<ellipse cx="388.5" cy="426.14" rx="2.0" ry="2.2" fill="#fff" stroke="#e82a2e" stroke-width="1.1"/>
<ellipse cx="393.41" cy="424.51" rx="2.0" ry="2.2" fill="#fff" stroke="#e82a2e" stroke-width="1.1"/>
<ellipse cx="398.32" cy="422.33" rx="2.0" ry="2.2" fill="#fff" stroke="#e82a2e" stroke-width="1.1"/>
<ellipse cx="403.23" cy="419.76" rx="2.0" ry="2.2" fill="#fff" stroke="#e82a2e" stroke-width="1.1"/>
<ellipse cx="408.14" cy="417.42" rx="2.0" ry="2.2" fill="#fff" stroke="#e82a2e" stroke-width="1.1"/>
<ellipse cx="413.05" cy="414.7" rx="2.0" ry="2.2" fill="#fff" stroke="#e82a2e" stroke-width="1.1"/>
<ellipse cx="417.96" cy="411.97" rx="2.0" ry="2.2" fill="#fff" stroke="#e82a2e" stroke-width="1.1"/>
<ellipse cx="422.87" cy="409.25" rx="2.0" ry="2.2" fill="#fff" stroke="#e82a2e" stroke-width="1.1"/>
<ellipse cx="427.78" cy="406.52" rx="2.0" ry="2.2" fill="#fff" stroke="#e82a2e" stroke-width="1.1"/>
<ellipse cx="432.69" cy="404.34" rx="2.0" ry="2.2" fill="#fff" stroke="#e82a2e" stroke-width="1.1"/>
<ellipse cx="437.6" cy="401.07" rx="2.0" ry="2.2" fill="#fff" stroke="#e82a2e" stroke-width="1.1"/>
<ellipse cx="442.51" cy="398.35" rx="2.0" ry="2.2" fill="#fff" stroke="#e82a2e" stroke-width="1.1"/>
<ellipse cx="447.42" cy="394.53" rx="2.0" ry="2.2" fill="#fff" stroke="#e82a2e" stroke-width="1.1"/>
<ellipse cx="452.33" cy="391.26" rx="2.0" ry="2.2" fill="#fff" stroke="#e82a2e" stroke-width="1.1"/>
<ellipse cx="457.24" cy="391.81" rx="2.0" ry="2.2" fill="#fff" stroke="#e82a2e" stroke-width="1.1"/>
<rect x="290.3" y="380.5" width="176.7" height="142.8" fill="none" stroke="#3a3a3a" stroke-width="1.0"/>
<line x1="314.85" y1="523.3" x2="314.85" y2="520.8" stroke="#3a3a3a" stroke-width="0.9" />
<line x1="314.85" y1="380.5" x2="314.85" y2="383" stroke="#3a3a3a" stroke-width="0.9" />
<line x1="339.4" y1="523.3" x2="339.4" y2="520.8" stroke="#3a3a3a" stroke-width="0.9" />
<line x1="339.4" y1="380.5" x2="339.4" y2="383" stroke="#3a3a3a" stroke-width="0.9" />
<line x1="363.95" y1="523.3" x2="363.95" y2="520.8" stroke="#3a3a3a" stroke-width="0.9" />
<line x1="363.95" y1="380.5" x2="363.95" y2="383" stroke="#3a3a3a" stroke-width="0.9" />
<line x1="388.5" y1="523.3" x2="388.5" y2="520.8" stroke="#3a3a3a" stroke-width="0.9" />
<line x1="388.5" y1="380.5" x2="388.5" y2="383" stroke="#3a3a3a" stroke-width="0.9" />
<line x1="413.05" y1="523.3" x2="413.05" y2="520.8" stroke="#3a3a3a" stroke-width="0.9" />
<line x1="413.05" y1="380.5" x2="413.05" y2="383" stroke="#3a3a3a" stroke-width="0.9" />
<line x1="437.6" y1="523.3" x2="437.6" y2="520.8" stroke="#3a3a3a" stroke-width="0.9" />
<line x1="437.6" y1="380.5" x2="437.6" y2="383" stroke="#3a3a3a" stroke-width="0.9" />
<line x1="462.15" y1="523.3" x2="462.15" y2="520.8" stroke="#3a3a3a" stroke-width="0.9" />
<line x1="462.15" y1="380.5" x2="462.15" y2="383" stroke="#3a3a3a" stroke-width="0.9" />
<line x1="302.57" y1="523.3" x2="302.57" y2="521.9" stroke="#3a3a3a" stroke-width="0.9" />
<line x1="302.57" y1="380.5" x2="302.57" y2="381.9" stroke="#3a3a3a" stroke-width="0.9" />
<line x1="327.12" y1="523.3" x2="327.12" y2="521.9" stroke="#3a3a3a" stroke-width="0.9" />
<line x1="327.12" y1="380.5" x2="327.12" y2="381.9" stroke="#3a3a3a" stroke-width="0.9" />
<line x1="351.68" y1="523.3" x2="351.68" y2="521.9" stroke="#3a3a3a" stroke-width="0.9" />
<line x1="351.68" y1="380.5" x2="351.68" y2="381.9" stroke="#3a3a3a" stroke-width="0.9" />
<line x1="376.23" y1="523.3" x2="376.23" y2="521.9" stroke="#3a3a3a" stroke-width="0.9" />
<line x1="376.23" y1="380.5" x2="376.23" y2="381.9" stroke="#3a3a3a" stroke-width="0.9" />
<line x1="400.77" y1="523.3" x2="400.77" y2="521.9" stroke="#3a3a3a" stroke-width="0.9" />
<line x1="400.77" y1="380.5" x2="400.77" y2="381.9" stroke="#3a3a3a" stroke-width="0.9" />
<line x1="425.33" y1="523.3" x2="425.33" y2="521.9" stroke="#3a3a3a" stroke-width="0.9" />
<line x1="425.33" y1="380.5" x2="425.33" y2="381.9" stroke="#3a3a3a" stroke-width="0.9" />
<line x1="449.88" y1="523.3" x2="449.88" y2="521.9" stroke="#3a3a3a" stroke-width="0.9" />
<line x1="449.88" y1="380.5" x2="449.88" y2="381.9" stroke="#3a3a3a" stroke-width="0.9" />
<line x1="290.3" y1="517.7" x2="292.8" y2="517.7" stroke="#3a3a3a" stroke-width="0.9" />
<line x1="467" y1="517.7" x2="464.5" y2="517.7" stroke="#3a3a3a" stroke-width="0.9" />
<line x1="290.3" y1="506.8" x2="292.8" y2="506.8" stroke="#3a3a3a" stroke-width="0.9" />
<line x1="467" y1="506.8" x2="464.5" y2="506.8" stroke="#3a3a3a" stroke-width="0.9" />
<line x1="290.3" y1="495.9" x2="292.8" y2="495.9" stroke="#3a3a3a" stroke-width="0.9" />
<line x1="467" y1="495.9" x2="464.5" y2="495.9" stroke="#3a3a3a" stroke-width="0.9" />
<line x1="290.3" y1="485" x2="292.8" y2="485" stroke="#3a3a3a" stroke-width="0.9" />
<line x1="467" y1="485" x2="464.5" y2="485" stroke="#3a3a3a" stroke-width="0.9" />
<line x1="290.3" y1="474.1" x2="292.8" y2="474.1" stroke="#3a3a3a" stroke-width="0.9" />
<line x1="467" y1="474.1" x2="464.5" y2="474.1" stroke="#3a3a3a" stroke-width="0.9" />
<line x1="290.3" y1="463.2" x2="292.8" y2="463.2" stroke="#3a3a3a" stroke-width="0.9" />
<line x1="467" y1="463.2" x2="464.5" y2="463.2" stroke="#3a3a3a" stroke-width="0.9" />
<line x1="290.3" y1="452.3" x2="292.8" y2="452.3" stroke="#3a3a3a" stroke-width="0.9" />
<line x1="467" y1="452.3" x2="464.5" y2="452.3" stroke="#3a3a3a" stroke-width="0.9" />
<line x1="290.3" y1="441.4" x2="292.8" y2="441.4" stroke="#3a3a3a" stroke-width="0.9" />
<line x1="467" y1="441.4" x2="464.5" y2="441.4" stroke="#3a3a3a" stroke-width="0.9" />
<line x1="290.3" y1="430.5" x2="292.8" y2="430.5" stroke="#3a3a3a" stroke-width="0.9" />
<line x1="467" y1="430.5" x2="464.5" y2="430.5" stroke="#3a3a3a" stroke-width="0.9" />
<line x1="290.3" y1="419.6" x2="292.8" y2="419.6" stroke="#3a3a3a" stroke-width="0.9" />
<line x1="467" y1="419.6" x2="464.5" y2="419.6" stroke="#3a3a3a" stroke-width="0.9" />
<line x1="290.3" y1="408.7" x2="292.8" y2="408.7" stroke="#3a3a3a" stroke-width="0.9" />
<line x1="467" y1="408.7" x2="464.5" y2="408.7" stroke="#3a3a3a" stroke-width="0.9" />
<line x1="290.3" y1="397.8" x2="292.8" y2="397.8" stroke="#3a3a3a" stroke-width="0.9" />
<line x1="467" y1="397.8" x2="464.5" y2="397.8" stroke="#3a3a3a" stroke-width="0.9" />
<line x1="290.3" y1="386.9" x2="292.8" y2="386.9" stroke="#3a3a3a" stroke-width="0.9" />
<line x1="467" y1="386.9" x2="464.5" y2="386.9" stroke="#3a3a3a" stroke-width="0.9" />
<line x1="290.3" y1="523.15" x2="291.7" y2="523.15" stroke="#3a3a3a" stroke-width="0.9" />
<line x1="467" y1="523.15" x2="465.6" y2="523.15" stroke="#3a3a3a" stroke-width="0.9" />
<line x1="290.3" y1="512.25" x2="291.7" y2="512.25" stroke="#3a3a3a" stroke-width="0.9" />
<line x1="467" y1="512.25" x2="465.6" y2="512.25" stroke="#3a3a3a" stroke-width="0.9" />
<line x1="290.3" y1="501.35" x2="291.7" y2="501.35" stroke="#3a3a3a" stroke-width="0.9" />
<line x1="467" y1="501.35" x2="465.6" y2="501.35" stroke="#3a3a3a" stroke-width="0.9" />
<line x1="290.3" y1="490.45" x2="291.7" y2="490.45" stroke="#3a3a3a" stroke-width="0.9" />
<line x1="467" y1="490.45" x2="465.6" y2="490.45" stroke="#3a3a3a" stroke-width="0.9" />
<line x1="290.3" y1="479.55" x2="291.7" y2="479.55" stroke="#3a3a3a" stroke-width="0.9" />
<line x1="467" y1="479.55" x2="465.6" y2="479.55" stroke="#3a3a3a" stroke-width="0.9" />
<line x1="290.3" y1="468.65" x2="291.7" y2="468.65" stroke="#3a3a3a" stroke-width="0.9" />
<line x1="467" y1="468.65" x2="465.6" y2="468.65" stroke="#3a3a3a" stroke-width="0.9" />
<line x1="290.3" y1="457.75" x2="291.7" y2="457.75" stroke="#3a3a3a" stroke-width="0.9" />
<line x1="467" y1="457.75" x2="465.6" y2="457.75" stroke="#3a3a3a" stroke-width="0.9" />
<line x1="290.3" y1="446.85" x2="291.7" y2="446.85" stroke="#3a3a3a" stroke-width="0.9" />
<line x1="467" y1="446.85" x2="465.6" y2="446.85" stroke="#3a3a3a" stroke-width="0.9" />
<line x1="290.3" y1="435.95" x2="291.7" y2="435.95" stroke="#3a3a3a" stroke-width="0.9" />
<line x1="467" y1="435.95" x2="465.6" y2="435.95" stroke="#3a3a3a" stroke-width="0.9" />
<line x1="290.3" y1="425.05" x2="291.7" y2="425.05" stroke="#3a3a3a" stroke-width="0.9" />
<line x1="467" y1="425.05" x2="465.6" y2="425.05" stroke="#3a3a3a" stroke-width="0.9" />
<line x1="290.3" y1="414.15" x2="291.7" y2="414.15" stroke="#3a3a3a" stroke-width="0.9" />
<line x1="467" y1="414.15" x2="465.6" y2="414.15" stroke="#3a3a3a" stroke-width="0.9" />
<line x1="290.3" y1="403.25" x2="291.7" y2="403.25" stroke="#3a3a3a" stroke-width="0.9" />
<line x1="467" y1="403.25" x2="465.6" y2="403.25" stroke="#3a3a3a" stroke-width="0.9" />
<line x1="290.3" y1="392.35" x2="291.7" y2="392.35" stroke="#3a3a3a" stroke-width="0.9" />
<line x1="467" y1="392.35" x2="465.6" y2="392.35" stroke="#3a3a3a" stroke-width="0.9" />
<line x1="290.3" y1="381.45" x2="291.7" y2="381.45" stroke="#3a3a3a" stroke-width="0.9" />
<line x1="467" y1="381.45" x2="465.6" y2="381.45" stroke="#3a3a3a" stroke-width="0.9" />
<text x="0" y="0" font-size="7.5" text-anchor="middle" fill="#1e1e1e" stroke="#1e1e1e" stroke-width="0.27" transform="translate(290.3 532.8) scale(0.95 1)">0</text>
<text x="0" y="0" font-size="7.5" text-anchor="middle" fill="#1e1e1e" stroke="#1e1e1e" stroke-width="0.27" transform="translate(314.85 532.8) scale(0.95 1)">50</text>
<text x="0" y="0" font-size="7.5" text-anchor="middle" fill="#1e1e1e" stroke="#1e1e1e" stroke-width="0.27" transform="translate(339.4 532.8) scale(0.95 1)">100</text>
<text x="0" y="0" font-size="7.5" text-anchor="middle" fill="#1e1e1e" stroke="#1e1e1e" stroke-width="0.27" transform="translate(363.95 532.8) scale(0.95 1)">150</text>
<text x="0" y="0" font-size="7.5" text-anchor="middle" fill="#1e1e1e" stroke="#1e1e1e" stroke-width="0.27" transform="translate(388.5 532.8) scale(0.95 1)">200</text>
<text x="0" y="0" font-size="7.5" text-anchor="middle" fill="#1e1e1e" stroke="#1e1e1e" stroke-width="0.27" transform="translate(413.05 532.8) scale(0.95 1)">250</text>
<text x="0" y="0" font-size="7.5" text-anchor="middle" fill="#1e1e1e" stroke="#1e1e1e" stroke-width="0.27" transform="translate(437.6 532.8) scale(0.95 1)">300</text>
<text x="0" y="0" font-size="7.5" text-anchor="middle" fill="#1e1e1e" stroke="#1e1e1e" stroke-width="0.27" transform="translate(462.15 532.8) scale(0.95 1)">350</text>
<text x="0" y="0" font-size="7.9" text-anchor="end" fill="#1e1e1e" stroke="#1e1e1e" stroke-width="0.27" transform="translate(286.6 520.5) scale(0.92 1)">0</text>
<text x="0" y="0" font-size="7.9" text-anchor="end" fill="#1e1e1e" stroke="#1e1e1e" stroke-width="0.27" transform="translate(286.6 509.6) scale(0.92 1)">2</text>
<text x="0" y="0" font-size="7.9" text-anchor="end" fill="#1e1e1e" stroke="#1e1e1e" stroke-width="0.27" transform="translate(286.6 498.7) scale(0.92 1)">4</text>
<text x="0" y="0" font-size="7.9" text-anchor="end" fill="#1e1e1e" stroke="#1e1e1e" stroke-width="0.27" transform="translate(286.6 487.8) scale(0.92 1)">6</text>
<text x="0" y="0" font-size="7.9" text-anchor="end" fill="#1e1e1e" stroke="#1e1e1e" stroke-width="0.27" transform="translate(286.6 476.9) scale(0.92 1)">8</text>
<text x="0" y="0" font-size="7.9" text-anchor="end" fill="#1e1e1e" stroke="#1e1e1e" stroke-width="0.27" transform="translate(286.6 466) scale(0.92 1)">10</text>
<text x="0" y="0" font-size="7.9" text-anchor="end" fill="#1e1e1e" stroke="#1e1e1e" stroke-width="0.27" transform="translate(286.6 455.1) scale(0.92 1)">12</text>
<text x="0" y="0" font-size="7.9" text-anchor="end" fill="#1e1e1e" stroke="#1e1e1e" stroke-width="0.27" transform="translate(286.6 444.2) scale(0.92 1)">14</text>
<text x="0" y="0" font-size="7.9" text-anchor="end" fill="#1e1e1e" stroke="#1e1e1e" stroke-width="0.27" transform="translate(286.6 433.3) scale(0.92 1)">16</text>
<text x="0" y="0" font-size="7.9" text-anchor="end" fill="#1e1e1e" stroke="#1e1e1e" stroke-width="0.27" transform="translate(286.6 422.4) scale(0.92 1)">18</text>
<text x="0" y="0" font-size="7.9" text-anchor="end" fill="#1e1e1e" stroke="#1e1e1e" stroke-width="0.27" transform="translate(286.6 411.5) scale(0.92 1)">20</text>
<text x="0" y="0" font-size="7.9" text-anchor="end" fill="#1e1e1e" stroke="#1e1e1e" stroke-width="0.27" transform="translate(286.6 400.6) scale(0.92 1)">22</text>
<text x="0" y="0" font-size="7.9" text-anchor="end" fill="#1e1e1e" stroke="#1e1e1e" stroke-width="0.27" transform="translate(286.6 389.7) scale(0.92 1)">24</text>
<text x="378.4" y="545.2" font-size="8.3" text-anchor="middle" fill="#1e1e1e" stroke="#1e1e1e" stroke-width="0.3">Voltage (V)</text>
<text x="0" y="0" font-size="8.9" text-anchor="middle" fill="#1e1e1e" stroke="#1e1e1e" stroke-width="0.3" transform="translate(272.5 443.4) rotate(-90) scale(0.88 1)">Gain</text>
<text x="298" y="392.7" font-size="7.2" text-anchor="start" fill="#1e1e1e" stroke="#1e1e1e" stroke-width="0.27">iLGAD Pad</text>
<text x="298" y="402.2" font-size="7.2" text-anchor="start" fill="#1e1e1e" stroke="#1e1e1e" stroke-width="0.27">1.0x1.0 mm<tspan dy="-1.9" font-size="4.7">2</tspan></text>
<text x="298" y="411.5" font-size="7.2" text-anchor="start" fill="#1e1e1e" stroke="#1e1e1e" stroke-width="0.27">T = 23 ºC</text>
<text x="298" y="421.1" font-size="7.2" text-anchor="start" fill="#1e1e1e" stroke="#1e1e1e" stroke-width="0.27">IR Laser 1064 nm</text>
</svg></body></html>
